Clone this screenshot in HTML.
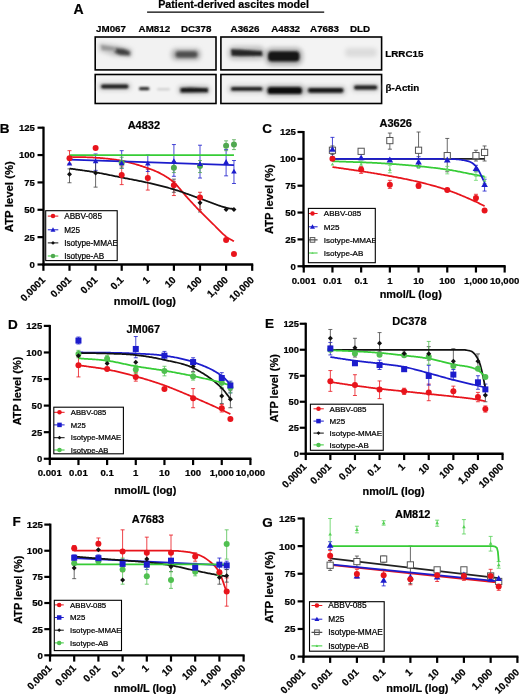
<!DOCTYPE html>
<html><head><meta charset="utf-8"><style>
html,body{margin:0;padding:0;background:#fff;}
body{width:520px;height:695px;overflow:hidden;font-family:"Liberation Sans",sans-serif;}
svg text{font-family:"Liberation Sans",sans-serif;stroke:#000;stroke-width:0.22px;paint-order:stroke;}
</style></head><body>
<svg width="520" height="695" viewBox="0 0 520 695" style="display:block;filter:blur(0.4px)">
<defs>
<filter id="b1" x="-50%" y="-50%" width="200%" height="200%"><feGaussianBlur stdDeviation="1.0"/></filter>
<filter id="b2" x="-50%" y="-50%" width="200%" height="200%"><feGaussianBlur stdDeviation="0.8"/></filter>
<filter id="b4" x="-50%" y="-50%" width="200%" height="200%"><feGaussianBlur stdDeviation="1.5"/></filter>
<filter id="b3" x="-50%" y="-50%" width="200%" height="200%"><feGaussianBlur stdDeviation="2.2"/></filter>
</defs>
<text x="73.4" y="13.8" font-size="14" font-weight="bold">A</text>
<text x="233.6" y="7.8" font-size="10.7" font-weight="bold" text-anchor="middle">Patient-derived ascites model</text>
<line x1="147.1" y1="12.1" x2="324.2" y2="12.1" stroke="#000" stroke-width="1.3"/>
<g font-size="9.8" font-weight="bold" text-anchor="middle">
<text x="111" y="31.7">JM067</text>
<text x="154.4" y="31.7">AM812</text>
<text x="196.2" y="31.7">DC378</text>
<text x="245" y="31.7">A3626</text>
<text x="285.6" y="31.7">A4832</text>
<text x="324.5" y="31.7">A7683</text>
<text x="360" y="31.7">DLD</text>
</g>
<rect x="95.2" y="37" width="120.8" height="32.9" fill="#f2f2f2" stroke="#000" stroke-width="1.6"/>
<rect x="220.9" y="37" width="160.7" height="32.9" fill="#f3f3f3" stroke="#000" stroke-width="1.6"/>
<rect x="95.2" y="74.5" width="120.8" height="29" fill="#f3f3f3" stroke="#000" stroke-width="1.6"/>
<rect x="220.9" y="74.5" width="160.7" height="29" fill="#f3f3f3" stroke="#000" stroke-width="1.6"/>
<g filter="url(#b3)">
<path d="M99,43 L116,45 L132,49 L132,57 L114,56 L99,51Z" fill="#c4c4c4"/>
<rect x="171" y="48.5" width="30" height="12" rx="5" fill="#b8b8b8"/>
<rect x="228" y="46" width="37" height="14" rx="6" fill="#c0c0c0"/>
<rect x="265" y="47.5" width="38" height="18" rx="7" fill="#b0b0b0"/>
<rect x="345" y="48" width="32" height="9" rx="4" fill="#dcdcdc"/>
<rect x="98" y="82.5" width="33" height="8" rx="4" fill="#c8c8c8"/>
<rect x="178" y="85.5" width="32" height="9" rx="4" fill="#c0c0c0"/>
<rect x="228" y="85" width="37" height="8" rx="4" fill="#c8c8c8"/>
<rect x="265" y="84.5" width="40" height="12" rx="5" fill="#b8b8b8"/>
<rect x="305" y="86" width="41" height="9" rx="4" fill="#c4c4c4"/>
<rect x="351.5" y="83.5" width="28" height="8" rx="4" fill="#c8c8c8"/>
</g>
<g filter="url(#b4)">
<path d="M115,48 L124,49 L130,51.5 L130,55.5 L120,55 L114.5,52.5Z" fill="#3e3e3e"/>
<rect x="175.5" y="51.3" width="22" height="6.4" rx="3" fill="#4c4c4c"/>
</g>
<g filter="url(#b1)">
<path d="M101,45 L114,47 L117,51 L102,50Z" fill="#9a9a9a"/>

<path d="M231,49.3 Q232,49 240,49.6 L262,51 L262.5,56 L240,56.2 L231.5,55.8Z" fill="#262626"/>
<rect x="268" y="51.2" width="31.5" height="10.2" rx="4" fill="#181818"/>
</g>
<g filter="url(#b2)">
<rect x="101" y="84.6" width="27.5" height="3.8" rx="1.9" fill="#1c1c1c"/>
<rect x="139" y="87" width="10.5" height="3.3" rx="1.6" fill="#2a2a2a"/>
<rect x="157" y="88" width="13" height="2.5" rx="1.2" fill="#d2d2d2"/>
<path d="M180.5,88 L190,87.6 L208,88.2 L208,92.2 L190,92.4 L180.5,92.6Z" fill="#141414"/>
<rect x="231" y="87" width="31.5" height="3.8" rx="1.9" fill="#1a1a1a"/>
<rect x="267.5" y="86.9" width="34.5" height="7.2" rx="3.2" fill="#101010"/>
<rect x="308" y="88" width="35.5" height="4.8" rx="2.4" fill="#161616"/>
<rect x="354" y="85.6" width="23.3" height="3.9" rx="1.9" fill="#1a1a1a"/>
</g>
<text x="385.3" y="57" font-size="9.8" font-weight="bold">LRRC15</text>
<text x="385.6" y="90.5" font-size="9.8" font-weight="bold">β-Actin</text>

<text x="-0.20" y="132.60" font-size="13.5" font-weight="bold" text-anchor="start" fill="#000" >B</text>
<text x="143.85" y="129.30" font-size="11" font-weight="bold" text-anchor="middle" fill="#000" >A4832</text>
<line x1="43.50" y1="126.70" x2="43.50" y2="265.70" stroke="#000" stroke-width="2.3" />
<line x1="37.50" y1="264.50" x2="43.50" y2="264.50" stroke="#000" stroke-width="2.2" />
<text x="34.90" y="267.91" font-size="9.6" font-weight="bold" text-anchor="end" fill="#000" >0</text>
<line x1="37.50" y1="237.14" x2="43.50" y2="237.14" stroke="#000" stroke-width="2.2" />
<text x="34.90" y="240.55" font-size="9.6" font-weight="bold" text-anchor="end" fill="#000" >25</text>
<line x1="37.50" y1="209.78" x2="43.50" y2="209.78" stroke="#000" stroke-width="2.2" />
<text x="34.90" y="213.19" font-size="9.6" font-weight="bold" text-anchor="end" fill="#000" >50</text>
<line x1="37.50" y1="182.42" x2="43.50" y2="182.42" stroke="#000" stroke-width="2.2" />
<text x="34.90" y="185.83" font-size="9.6" font-weight="bold" text-anchor="end" fill="#000" >75</text>
<line x1="37.50" y1="155.06" x2="43.50" y2="155.06" stroke="#000" stroke-width="2.2" />
<text x="34.90" y="158.47" font-size="9.6" font-weight="bold" text-anchor="end" fill="#000" >100</text>
<line x1="37.50" y1="127.70" x2="43.50" y2="127.70" stroke="#000" stroke-width="2.2" />
<text x="34.90" y="131.11" font-size="9.6" font-weight="bold" text-anchor="end" fill="#000" >125</text>
<text transform="translate(12.80,196.70) rotate(-90)" font-size="11.4" font-weight="bold" text-anchor="middle">ATP level (%)</text>
<line x1="42.40" y1="264.50" x2="253.20" y2="264.50" stroke="#000" stroke-width="2.3" />
<line x1="43.40" y1="264.50" x2="43.40" y2="270.80" stroke="#000" stroke-width="2.2" />
<text transform="translate(45.90,280.60) rotate(-45)" font-size="9.9" font-weight="bold" text-anchor="end">0.0001</text>
<line x1="69.50" y1="264.50" x2="69.50" y2="270.80" stroke="#000" stroke-width="2.2" />
<text transform="translate(72.00,280.60) rotate(-45)" font-size="9.9" font-weight="bold" text-anchor="end">0.001</text>
<line x1="95.60" y1="264.50" x2="95.60" y2="270.80" stroke="#000" stroke-width="2.2" />
<text transform="translate(98.10,280.60) rotate(-45)" font-size="9.9" font-weight="bold" text-anchor="end">0.01</text>
<line x1="121.70" y1="264.50" x2="121.70" y2="270.80" stroke="#000" stroke-width="2.2" />
<text transform="translate(124.20,280.60) rotate(-45)" font-size="9.9" font-weight="bold" text-anchor="end">0.1</text>
<line x1="147.80" y1="264.50" x2="147.80" y2="270.80" stroke="#000" stroke-width="2.2" />
<text transform="translate(150.30,280.60) rotate(-45)" font-size="9.9" font-weight="bold" text-anchor="end">1</text>
<line x1="173.90" y1="264.50" x2="173.90" y2="270.80" stroke="#000" stroke-width="2.2" />
<text transform="translate(176.40,280.60) rotate(-45)" font-size="9.9" font-weight="bold" text-anchor="end">10</text>
<line x1="200.00" y1="264.50" x2="200.00" y2="270.80" stroke="#000" stroke-width="2.2" />
<text transform="translate(202.50,280.60) rotate(-45)" font-size="9.9" font-weight="bold" text-anchor="end">100</text>
<line x1="226.10" y1="264.50" x2="226.10" y2="270.80" stroke="#000" stroke-width="2.2" />
<text transform="translate(228.60,280.60) rotate(-45)" font-size="9.9" font-weight="bold" text-anchor="end">1,000</text>
<line x1="252.20" y1="264.50" x2="252.20" y2="270.80" stroke="#000" stroke-width="2.2" />
<text transform="translate(254.70,280.60) rotate(-45)" font-size="9.9" font-weight="bold" text-anchor="end">10,000</text>
<text x="144.90" y="304.60" font-size="10.9" font-weight="bold" text-anchor="middle" fill="#000" >nmol/L (log)</text>
<svg x="45.70" y="210.70" width="71.50" height="49.90" overflow="hidden">
<line x1="2.10" y1="5.40" x2="12.60" y2="5.40" stroke="#e8141c" stroke-width="1" />
<circle cx="7.30" cy="5.40" r="2.25" fill="#e8141c"/>
<text x="18.50" y="8.35" font-size="8.2" font-weight="normal" text-anchor="start" fill="#000" >ABBV-085</text>
<line x1="2.10" y1="19.10" x2="12.60" y2="19.10" stroke="#1c1ccc" stroke-width="1" />
<path d="M7.30,16.63 L9.77,20.96 L4.83,20.96Z" fill="#1c1ccc"/>
<text x="18.50" y="22.05" font-size="8.2" font-weight="normal" text-anchor="start" fill="#000" >M25</text>
<line x1="2.10" y1="32.20" x2="12.60" y2="32.20" stroke="#111111" stroke-width="1" />
<path d="M7.30,30.33 L9.18,32.20 L7.30,34.08 L5.42,32.20Z" fill="#111111"/>
<text x="18.50" y="35.15" font-size="8.2" font-weight="normal" text-anchor="start" fill="#000" >Isotype-MMAE</text>
<line x1="2.10" y1="45.30" x2="12.60" y2="45.30" stroke="#36cc36" stroke-width="1" />
<circle cx="7.30" cy="45.30" r="2.25" fill="#50a850"/>
<text x="18.50" y="48.25" font-size="8.2" font-weight="normal" text-anchor="start" fill="#000" >Isotype-AB</text>
</svg>
<rect x="45.70" y="210.70" width="71.50" height="49.90" fill="none" stroke="#000" stroke-width="1.1"/>
<line x1="69.50" y1="163.82" x2="69.50" y2="150.68" stroke="#e8141c" stroke-width="0.8" />
<line x1="67.50" y1="163.82" x2="71.50" y2="163.82" stroke="#e8141c" stroke-width="0.8" />
<line x1="67.50" y1="150.68" x2="71.50" y2="150.68" stroke="#e8141c" stroke-width="0.8" />
<line x1="121.70" y1="184.61" x2="121.70" y2="166.00" stroke="#e8141c" stroke-width="0.8" />
<line x1="119.70" y1="184.61" x2="123.70" y2="184.61" stroke="#e8141c" stroke-width="0.8" />
<line x1="119.70" y1="166.00" x2="123.70" y2="166.00" stroke="#e8141c" stroke-width="0.8" />
<line x1="147.80" y1="190.08" x2="147.80" y2="169.29" stroke="#e8141c" stroke-width="0.8" />
<line x1="145.80" y1="190.08" x2="149.80" y2="190.08" stroke="#e8141c" stroke-width="0.8" />
<line x1="145.80" y1="169.29" x2="149.80" y2="169.29" stroke="#e8141c" stroke-width="0.8" />
<line x1="173.90" y1="195.55" x2="173.90" y2="181.33" stroke="#e8141c" stroke-width="0.8" />
<line x1="171.90" y1="195.55" x2="175.90" y2="195.55" stroke="#e8141c" stroke-width="0.8" />
<line x1="171.90" y1="181.33" x2="175.90" y2="181.33" stroke="#e8141c" stroke-width="0.8" />
<line x1="200.00" y1="209.78" x2="200.00" y2="192.27" stroke="#e8141c" stroke-width="0.8" />
<line x1="198.00" y1="209.78" x2="202.00" y2="209.78" stroke="#e8141c" stroke-width="0.8" />
<line x1="198.00" y1="192.27" x2="202.00" y2="192.27" stroke="#e8141c" stroke-width="0.8" />
<line x1="95.60" y1="170.38" x2="95.60" y2="153.97" stroke="#1c1ccc" stroke-width="0.8" />
<line x1="93.60" y1="170.38" x2="97.60" y2="170.38" stroke="#1c1ccc" stroke-width="0.8" />
<line x1="93.60" y1="153.97" x2="97.60" y2="153.97" stroke="#1c1ccc" stroke-width="0.8" />
<line x1="121.70" y1="168.19" x2="121.70" y2="150.68" stroke="#1c1ccc" stroke-width="0.8" />
<line x1="119.70" y1="168.19" x2="123.70" y2="168.19" stroke="#1c1ccc" stroke-width="0.8" />
<line x1="119.70" y1="150.68" x2="123.70" y2="150.68" stroke="#1c1ccc" stroke-width="0.8" />
<line x1="147.80" y1="171.48" x2="147.80" y2="155.06" stroke="#1c1ccc" stroke-width="0.8" />
<line x1="145.80" y1="171.48" x2="149.80" y2="171.48" stroke="#1c1ccc" stroke-width="0.8" />
<line x1="145.80" y1="155.06" x2="149.80" y2="155.06" stroke="#1c1ccc" stroke-width="0.8" />
<line x1="173.90" y1="176.29" x2="173.90" y2="144.55" stroke="#1c1ccc" stroke-width="0.8" />
<line x1="171.90" y1="176.29" x2="175.90" y2="176.29" stroke="#1c1ccc" stroke-width="0.8" />
<line x1="171.90" y1="144.55" x2="175.90" y2="144.55" stroke="#1c1ccc" stroke-width="0.8" />
<line x1="200.00" y1="178.04" x2="200.00" y2="145.21" stroke="#1c1ccc" stroke-width="0.8" />
<line x1="198.00" y1="178.04" x2="202.00" y2="178.04" stroke="#1c1ccc" stroke-width="0.8" />
<line x1="198.00" y1="145.21" x2="202.00" y2="145.21" stroke="#1c1ccc" stroke-width="0.8" />
<line x1="226.10" y1="175.85" x2="226.10" y2="149.59" stroke="#1c1ccc" stroke-width="0.8" />
<line x1="224.10" y1="175.85" x2="228.10" y2="175.85" stroke="#1c1ccc" stroke-width="0.8" />
<line x1="224.10" y1="149.59" x2="228.10" y2="149.59" stroke="#1c1ccc" stroke-width="0.8" />
<line x1="233.96" y1="183.51" x2="233.96" y2="160.53" stroke="#1c1ccc" stroke-width="0.8" />
<line x1="231.96" y1="183.51" x2="235.96" y2="183.51" stroke="#1c1ccc" stroke-width="0.8" />
<line x1="231.96" y1="160.53" x2="235.96" y2="160.53" stroke="#1c1ccc" stroke-width="0.8" />
<line x1="69.50" y1="182.75" x2="69.50" y2="168.85" stroke="#444" stroke-width="0.8" />
<line x1="67.50" y1="182.75" x2="71.50" y2="182.75" stroke="#444" stroke-width="0.8" />
<line x1="67.50" y1="168.85" x2="71.50" y2="168.85" stroke="#444" stroke-width="0.8" />
<line x1="95.60" y1="187.13" x2="95.60" y2="160.86" stroke="#444" stroke-width="0.8" />
<line x1="93.60" y1="187.13" x2="97.60" y2="187.13" stroke="#444" stroke-width="0.8" />
<line x1="93.60" y1="160.86" x2="97.60" y2="160.86" stroke="#444" stroke-width="0.8" />
<line x1="173.90" y1="192.27" x2="173.90" y2="179.14" stroke="#444" stroke-width="0.8" />
<line x1="171.90" y1="192.27" x2="175.90" y2="192.27" stroke="#444" stroke-width="0.8" />
<line x1="171.90" y1="179.14" x2="175.90" y2="179.14" stroke="#444" stroke-width="0.8" />
<line x1="200.00" y1="211.97" x2="200.00" y2="196.65" stroke="#444" stroke-width="0.8" />
<line x1="198.00" y1="211.97" x2="202.00" y2="211.97" stroke="#444" stroke-width="0.8" />
<line x1="198.00" y1="196.65" x2="202.00" y2="196.65" stroke="#444" stroke-width="0.8" />
<line x1="121.70" y1="168.19" x2="121.70" y2="157.25" stroke="#50a850" stroke-width="0.8" />
<line x1="119.70" y1="168.19" x2="123.70" y2="168.19" stroke="#50a850" stroke-width="0.8" />
<line x1="119.70" y1="157.25" x2="123.70" y2="157.25" stroke="#50a850" stroke-width="0.8" />
<line x1="173.90" y1="172.57" x2="173.90" y2="161.63" stroke="#50a850" stroke-width="0.8" />
<line x1="171.90" y1="172.57" x2="175.90" y2="172.57" stroke="#50a850" stroke-width="0.8" />
<line x1="171.90" y1="161.63" x2="175.90" y2="161.63" stroke="#50a850" stroke-width="0.8" />
<line x1="200.00" y1="172.57" x2="200.00" y2="160.53" stroke="#50a850" stroke-width="0.8" />
<line x1="198.00" y1="172.57" x2="202.00" y2="172.57" stroke="#50a850" stroke-width="0.8" />
<line x1="198.00" y1="160.53" x2="202.00" y2="160.53" stroke="#50a850" stroke-width="0.8" />
<line x1="226.10" y1="150.68" x2="226.10" y2="140.83" stroke="#50a850" stroke-width="0.8" />
<line x1="224.10" y1="150.68" x2="228.10" y2="150.68" stroke="#50a850" stroke-width="0.8" />
<line x1="224.10" y1="140.83" x2="228.10" y2="140.83" stroke="#50a850" stroke-width="0.8" />
<line x1="233.96" y1="149.59" x2="233.96" y2="139.74" stroke="#50a850" stroke-width="0.8" />
<line x1="231.96" y1="149.59" x2="235.96" y2="149.59" stroke="#50a850" stroke-width="0.8" />
<line x1="231.96" y1="139.74" x2="235.96" y2="139.74" stroke="#50a850" stroke-width="0.8" />
<path d="M69.50,156.92 L70.50,156.95 L71.51,156.97 L72.51,157.00 L73.52,157.02 L74.52,157.03 L75.52,157.05 L76.53,157.07 L77.53,157.08 L78.53,157.10 L79.54,157.11 L80.54,157.13 L81.55,157.14 L82.55,157.16 L83.55,157.18 L84.56,157.20 L85.56,157.22 L86.57,157.25 L87.57,157.28 L88.57,157.32 L89.58,157.35 L90.58,157.40 L91.58,157.44 L92.59,157.49 L93.59,157.55 L94.60,157.62 L95.60,157.69 L96.60,157.76 L97.61,157.84 L98.61,157.91 L99.62,157.99 L100.62,158.07 L101.62,158.15 L102.63,158.23 L103.63,158.32 L104.63,158.41 L105.64,158.50 L106.64,158.60 L107.65,158.70 L108.65,158.80 L109.65,158.91 L110.66,159.03 L111.66,159.15 L112.67,159.28 L113.67,159.41 L114.67,159.55 L115.68,159.70 L116.68,159.85 L117.68,160.02 L118.69,160.19 L119.69,160.37 L120.70,160.55 L121.70,160.75 L122.70,160.96 L123.71,161.17 L124.71,161.39 L125.72,161.62 L126.72,161.86 L127.72,162.10 L128.73,162.35 L129.73,162.60 L130.73,162.87 L131.74,163.13 L132.74,163.41 L133.75,163.69 L134.75,163.98 L135.75,164.27 L136.76,164.57 L137.76,164.88 L138.77,165.19 L139.77,165.50 L140.77,165.82 L141.78,166.15 L142.78,166.48 L143.78,166.81 L144.79,167.15 L145.79,167.49 L146.80,167.84 L147.80,168.19 L148.80,168.55 L149.81,168.91 L150.81,169.27 L151.82,169.64 L152.82,170.02 L153.82,170.41 L154.83,170.82 L155.83,171.24 L156.83,171.68 L157.84,172.14 L158.84,172.62 L159.85,173.13 L160.85,173.66 L161.85,174.21 L162.86,174.77 L163.86,175.34 L164.87,175.92 L165.87,176.52 L166.87,177.14 L167.88,177.79 L168.88,178.46 L169.88,179.17 L170.89,179.92 L171.89,180.71 L172.90,181.54 L173.90,182.42 L174.90,183.36 L175.91,184.37 L176.91,185.43 L177.92,186.55 L178.92,187.70 L179.92,188.88 L180.93,190.08 L181.93,191.29 L182.93,192.51 L183.94,193.71 L184.94,194.90 L185.95,196.07 L186.95,197.19 L187.95,198.30 L188.96,199.40 L189.96,200.50 L190.97,201.60 L191.97,202.69 L192.97,203.78 L193.98,204.86 L194.98,205.94 L195.98,207.01 L196.99,208.07 L197.99,209.12 L199.00,210.17 L200.00,211.20 L201.00,212.23 L202.01,213.24 L203.01,214.24 L204.02,215.24 L205.02,216.23 L206.02,217.21 L207.03,218.18 L208.03,219.15 L209.03,220.12 L210.04,221.09 L211.04,222.06 L212.05,223.03 L213.05,224.01 L214.05,225.00 L215.06,226.00 L216.06,227.02 L217.07,228.05 L218.07,229.08 L219.07,230.10 L220.08,231.12 L221.08,232.11 L222.08,233.08 L223.09,234.02 L224.09,234.92 L225.10,235.78 L226.10,236.59 L227.22,237.42 L228.34,238.15 L229.47,238.81 L230.59,239.43 L231.71,240.04 L232.83,240.65 L233.96,241.30" fill="none" stroke-linejoin="round" stroke="#e8141c" stroke-width="1.75"/>
<path d="M69.50,159.66 L233.96,165.24" fill="none" stroke-linejoin="round" stroke="#1c1ccc" stroke-width="1.75"/>
<path d="M69.50,168.52 L70.50,168.67 L71.51,168.81 L72.51,168.96 L73.52,169.10 L74.52,169.24 L75.52,169.38 L76.53,169.52 L77.53,169.66 L78.53,169.80 L79.54,169.93 L80.54,170.07 L81.55,170.21 L82.55,170.35 L83.55,170.50 L84.56,170.64 L85.56,170.78 L86.57,170.93 L87.57,171.08 L88.57,171.23 L89.58,171.38 L90.58,171.53 L91.58,171.69 L92.59,171.85 L93.59,172.01 L94.60,172.18 L95.60,172.35 L96.60,172.53 L97.61,172.70 L98.61,172.89 L99.62,173.07 L100.62,173.26 L101.62,173.45 L102.63,173.64 L103.63,173.83 L104.63,174.03 L105.64,174.23 L106.64,174.43 L107.65,174.63 L108.65,174.83 L109.65,175.04 L110.66,175.24 L111.66,175.45 L112.67,175.66 L113.67,175.86 L114.67,176.07 L115.68,176.27 L116.68,176.48 L117.68,176.68 L118.69,176.89 L119.69,177.09 L120.70,177.29 L121.70,177.50 L122.70,177.69 L123.71,177.89 L124.71,178.09 L125.72,178.28 L126.72,178.48 L127.72,178.67 L128.73,178.86 L129.73,179.06 L130.73,179.25 L131.74,179.44 L132.74,179.64 L133.75,179.83 L134.75,180.03 L135.75,180.22 L136.76,180.42 L137.76,180.62 L138.77,180.82 L139.77,181.02 L140.77,181.23 L141.78,181.44 L142.78,181.65 L143.78,181.86 L144.79,182.08 L145.79,182.30 L146.80,182.52 L147.80,182.75 L148.80,182.98 L149.81,183.21 L150.81,183.44 L151.82,183.67 L152.82,183.91 L153.82,184.14 L154.83,184.38 L155.83,184.62 L156.83,184.86 L157.84,185.10 L158.84,185.35 L159.85,185.60 L160.85,185.85 L161.85,186.10 L162.86,186.36 L163.86,186.62 L164.87,186.88 L165.87,187.15 L166.87,187.42 L167.88,187.69 L168.88,187.97 L169.88,188.25 L170.89,188.54 L171.89,188.83 L172.90,189.12 L173.90,189.42 L174.90,189.73 L175.91,190.04 L176.91,190.36 L177.92,190.69 L178.92,191.02 L179.92,191.35 L180.93,191.69 L181.93,192.04 L182.93,192.39 L183.94,192.74 L184.94,193.09 L185.95,193.45 L186.95,193.81 L187.95,194.17 L188.96,194.53 L189.96,194.90 L190.97,195.26 L191.97,195.63 L192.97,195.99 L193.98,196.35 L194.98,196.72 L195.98,197.08 L196.99,197.44 L197.99,197.80 L199.00,198.15 L200.00,198.51 L201.00,198.86 L202.01,199.22 L203.01,199.59 L204.02,199.96 L205.02,200.34 L206.02,200.72 L207.03,201.10 L208.03,201.49 L209.03,201.87 L210.04,202.26 L211.04,202.64 L212.05,203.02 L213.05,203.40 L214.05,203.77 L215.06,204.15 L216.06,204.51 L217.07,204.87 L218.07,205.22 L219.07,205.57 L220.08,205.91 L221.08,206.23 L222.08,206.55 L223.09,206.86 L224.09,207.15 L225.10,207.43 L226.10,207.70 L227.22,207.96 L228.34,208.18 L229.47,208.37 L230.59,208.53 L231.71,208.68 L232.83,208.84 L233.96,209.01" fill="none" stroke-linejoin="round" stroke="#111111" stroke-width="1.75"/>
<path d="M69.50,155.06 L233.96,155.06" fill="none" stroke-linejoin="round" stroke="#36cc36" stroke-width="1.75"/>
<circle cx="121.70" cy="162.72" r="3.00" fill="#50a850"/>
<circle cx="173.90" cy="167.65" r="3.00" fill="#50a850"/>
<circle cx="200.00" cy="166.00" r="3.00" fill="#50a850"/>
<circle cx="226.10" cy="145.65" r="3.00" fill="#50a850"/>
<circle cx="233.96" cy="144.55" r="3.00" fill="#50a850"/>
<path d="M69.50,171.71 L72.00,174.21 L69.50,176.71 L67.00,174.21Z" fill="#111111"/>
<path d="M95.60,170.51 L98.10,173.01 L95.60,175.51 L93.10,173.01Z" fill="#111111"/>
<path d="M173.90,182.33 L176.40,184.83 L173.90,187.33 L171.40,184.83Z" fill="#111111"/>
<path d="M200.00,200.17 L202.50,202.67 L200.00,205.17 L197.50,202.67Z" fill="#111111"/>
<path d="M226.10,206.95 L228.60,209.45 L226.10,211.95 L223.60,209.45Z" fill="#111111"/>
<path d="M233.96,206.95 L236.46,209.45 L233.96,211.95 L231.46,209.45Z" fill="#111111"/>
<circle cx="69.50" cy="158.34" r="3.00" fill="#e8141c"/>
<circle cx="95.60" cy="148.06" r="3.00" fill="#e8141c"/>
<circle cx="121.70" cy="174.98" r="3.00" fill="#e8141c"/>
<circle cx="147.80" cy="178.04" r="3.00" fill="#e8141c"/>
<circle cx="173.90" cy="185.37" r="3.00" fill="#e8141c"/>
<circle cx="200.00" cy="197.52" r="3.00" fill="#e8141c"/>
<circle cx="226.10" cy="239.99" r="3.00" fill="#e8141c"/>
<circle cx="233.96" cy="253.99" r="3.00" fill="#e8141c"/>
<path d="M69.50,160.68 L72.31,165.59 L66.69,165.59Z" fill="#1c1ccc"/>
<path d="M95.60,158.38 L98.41,163.29 L92.79,163.29Z" fill="#1c1ccc"/>
<path d="M121.70,160.24 L124.51,165.15 L118.90,165.15Z" fill="#1c1ccc"/>
<path d="M147.80,160.68 L150.61,165.59 L145.00,165.59Z" fill="#1c1ccc"/>
<path d="M173.90,158.16 L176.71,163.07 L171.09,163.07Z" fill="#1c1ccc"/>
<path d="M200.00,161.01 L202.81,165.92 L197.20,165.92Z" fill="#1c1ccc"/>
<path d="M226.10,159.04 L228.91,163.95 L223.30,163.95Z" fill="#1c1ccc"/>
<path d="M233.96,168.67 L236.76,173.58 L231.15,173.58Z" fill="#1c1ccc"/>
<text x="262.20" y="133.30" font-size="13.5" font-weight="bold" text-anchor="start" fill="#000" >C</text>
<text x="395.75" y="127.00" font-size="11" font-weight="bold" text-anchor="middle" fill="#000" >A3626</text>
<line x1="303.50" y1="131.00" x2="303.50" y2="267.45" stroke="#000" stroke-width="2.3" />
<line x1="297.50" y1="266.25" x2="303.50" y2="266.25" stroke="#000" stroke-width="2.2" />
<text x="295.90" y="269.66" font-size="9.6" font-weight="bold" text-anchor="end" fill="#000" >0</text>
<line x1="297.50" y1="239.40" x2="303.50" y2="239.40" stroke="#000" stroke-width="2.2" />
<text x="295.90" y="242.81" font-size="9.6" font-weight="bold" text-anchor="end" fill="#000" >25</text>
<line x1="297.50" y1="212.55" x2="303.50" y2="212.55" stroke="#000" stroke-width="2.2" />
<text x="295.90" y="215.96" font-size="9.6" font-weight="bold" text-anchor="end" fill="#000" >50</text>
<line x1="297.50" y1="185.70" x2="303.50" y2="185.70" stroke="#000" stroke-width="2.2" />
<text x="295.90" y="189.11" font-size="9.6" font-weight="bold" text-anchor="end" fill="#000" >75</text>
<line x1="297.50" y1="158.85" x2="303.50" y2="158.85" stroke="#000" stroke-width="2.2" />
<text x="295.90" y="162.26" font-size="9.6" font-weight="bold" text-anchor="end" fill="#000" >100</text>
<line x1="297.50" y1="132.00" x2="303.50" y2="132.00" stroke="#000" stroke-width="2.2" />
<text x="295.90" y="135.41" font-size="9.6" font-weight="bold" text-anchor="end" fill="#000" >125</text>
<text transform="translate(273.30,199.20) rotate(-90)" font-size="11.2" font-weight="bold" text-anchor="middle">ATP level (%)</text>
<line x1="302.40" y1="266.25" x2="505.65" y2="266.25" stroke="#000" stroke-width="2.3" />
<line x1="303.75" y1="266.25" x2="303.75" y2="272.55" stroke="#000" stroke-width="2.2" />
<text x="303.75" y="283.75" font-size="9.6" font-weight="bold" text-anchor="middle" fill="#000" >0.001</text>
<line x1="332.45" y1="266.25" x2="332.45" y2="272.55" stroke="#000" stroke-width="2.2" />
<text x="332.45" y="283.75" font-size="9.6" font-weight="bold" text-anchor="middle" fill="#000" >0.01</text>
<line x1="361.15" y1="266.25" x2="361.15" y2="272.55" stroke="#000" stroke-width="2.2" />
<text x="361.15" y="283.75" font-size="9.6" font-weight="bold" text-anchor="middle" fill="#000" >0.1</text>
<line x1="389.85" y1="266.25" x2="389.85" y2="272.55" stroke="#000" stroke-width="2.2" />
<text x="389.85" y="283.75" font-size="9.6" font-weight="bold" text-anchor="middle" fill="#000" >1</text>
<line x1="418.55" y1="266.25" x2="418.55" y2="272.55" stroke="#000" stroke-width="2.2" />
<text x="418.55" y="283.75" font-size="9.6" font-weight="bold" text-anchor="middle" fill="#000" >10</text>
<line x1="447.25" y1="266.25" x2="447.25" y2="272.55" stroke="#000" stroke-width="2.2" />
<text x="447.25" y="283.75" font-size="9.6" font-weight="bold" text-anchor="middle" fill="#000" >100</text>
<line x1="475.95" y1="266.25" x2="475.95" y2="272.55" stroke="#000" stroke-width="2.2" />
<text x="475.95" y="283.75" font-size="9.6" font-weight="bold" text-anchor="middle" fill="#000" >1,000</text>
<line x1="504.65" y1="266.25" x2="504.65" y2="272.55" stroke="#000" stroke-width="2.2" />
<text x="504.65" y="283.75" font-size="9.6" font-weight="bold" text-anchor="middle" fill="#000" >10,000</text>
<text x="410.75" y="298.20" font-size="10.9" font-weight="bold" text-anchor="middle" fill="#000" >nmol/L (log)</text>
<svg x="308.40" y="208.40" width="66.90" height="54.30" overflow="hidden">
<line x1="0.40" y1="5.10" x2="9.20" y2="5.10" stroke="#e8141c" stroke-width="1" />
<circle cx="4.10" cy="5.10" r="2.25" fill="#e8141c"/>
<text x="15.40" y="8.02" font-size="8.1" font-weight="normal" text-anchor="start" fill="#000" >ABBV-085</text>
<line x1="0.40" y1="18.40" x2="9.20" y2="18.40" stroke="#1c1ccc" stroke-width="1" />
<path d="M4.10,15.93 L6.57,20.26 L1.62,20.26Z" fill="#1c1ccc"/>
<text x="15.40" y="21.32" font-size="8.1" font-weight="normal" text-anchor="start" fill="#000" >M25</text>
<line x1="0.40" y1="31.50" x2="9.20" y2="31.50" stroke="#222" stroke-width="1" />
<rect x="1.77" y="29.18" width="4.65" height="4.65" fill="none" stroke="#555" stroke-width="1"/>
<text x="15.40" y="34.42" font-size="8.1" font-weight="normal" text-anchor="start" fill="#000" >Isotype-MMAE</text>
<line x1="0.40" y1="44.60" x2="9.20" y2="44.60" stroke="#36cc36" stroke-width="1" />
<path d="M4.10,43.25 L5.45,45.61 L2.75,45.61Z" fill="#6cd66c"/>
<text x="15.40" y="47.52" font-size="8.1" font-weight="normal" text-anchor="start" fill="#000" >Isotype-AB</text>
</svg>
<rect x="308.40" y="208.40" width="66.90" height="54.30" fill="none" stroke="#000" stroke-width="1.1"/>
<line x1="361.15" y1="173.35" x2="361.15" y2="166.37" stroke="#e8141c" stroke-width="0.8" />
<line x1="359.15" y1="173.35" x2="363.15" y2="173.35" stroke="#e8141c" stroke-width="0.8" />
<line x1="359.15" y1="166.37" x2="363.15" y2="166.37" stroke="#e8141c" stroke-width="0.8" />
<line x1="389.85" y1="188.38" x2="389.85" y2="180.33" stroke="#e8141c" stroke-width="0.8" />
<line x1="387.85" y1="188.38" x2="391.85" y2="188.38" stroke="#e8141c" stroke-width="0.8" />
<line x1="387.85" y1="180.33" x2="391.85" y2="180.33" stroke="#e8141c" stroke-width="0.8" />
<line x1="418.55" y1="188.38" x2="418.55" y2="183.01" stroke="#e8141c" stroke-width="0.8" />
<line x1="416.55" y1="188.38" x2="420.55" y2="188.38" stroke="#e8141c" stroke-width="0.8" />
<line x1="416.55" y1="183.01" x2="420.55" y2="183.01" stroke="#e8141c" stroke-width="0.8" />
<line x1="475.95" y1="200.74" x2="475.95" y2="194.29" stroke="#e8141c" stroke-width="0.8" />
<line x1="473.95" y1="200.74" x2="477.95" y2="200.74" stroke="#e8141c" stroke-width="0.8" />
<line x1="473.95" y1="194.29" x2="477.95" y2="194.29" stroke="#e8141c" stroke-width="0.8" />
<line x1="332.45" y1="156.70" x2="332.45" y2="137.37" stroke="#1c1ccc" stroke-width="0.8" />
<line x1="330.45" y1="156.70" x2="334.45" y2="156.70" stroke="#1c1ccc" stroke-width="0.8" />
<line x1="330.45" y1="137.37" x2="334.45" y2="137.37" stroke="#1c1ccc" stroke-width="0.8" />
<line x1="418.55" y1="167.44" x2="418.55" y2="156.70" stroke="#1c1ccc" stroke-width="0.8" />
<line x1="416.55" y1="167.44" x2="420.55" y2="167.44" stroke="#1c1ccc" stroke-width="0.8" />
<line x1="416.55" y1="156.70" x2="420.55" y2="156.70" stroke="#1c1ccc" stroke-width="0.8" />
<line x1="475.95" y1="171.74" x2="475.95" y2="165.29" stroke="#1c1ccc" stroke-width="0.8" />
<line x1="473.95" y1="171.74" x2="477.95" y2="171.74" stroke="#1c1ccc" stroke-width="0.8" />
<line x1="473.95" y1="165.29" x2="477.95" y2="165.29" stroke="#1c1ccc" stroke-width="0.8" />
<line x1="484.59" y1="191.07" x2="484.59" y2="179.26" stroke="#1c1ccc" stroke-width="0.8" />
<line x1="482.59" y1="191.07" x2="486.59" y2="191.07" stroke="#1c1ccc" stroke-width="0.8" />
<line x1="482.59" y1="179.26" x2="486.59" y2="179.26" stroke="#1c1ccc" stroke-width="0.8" />
<line x1="332.45" y1="154.55" x2="332.45" y2="145.96" stroke="#444" stroke-width="0.8" />
<line x1="330.45" y1="154.55" x2="334.45" y2="154.55" stroke="#444" stroke-width="0.8" />
<line x1="330.45" y1="145.96" x2="334.45" y2="145.96" stroke="#444" stroke-width="0.8" />
<line x1="361.15" y1="153.48" x2="361.15" y2="149.18" stroke="#444" stroke-width="0.8" />
<line x1="359.15" y1="153.48" x2="363.15" y2="153.48" stroke="#444" stroke-width="0.8" />
<line x1="359.15" y1="149.18" x2="363.15" y2="149.18" stroke="#444" stroke-width="0.8" />
<line x1="389.85" y1="149.18" x2="389.85" y2="133.07" stroke="#444" stroke-width="0.8" />
<line x1="387.85" y1="149.18" x2="391.85" y2="149.18" stroke="#444" stroke-width="0.8" />
<line x1="387.85" y1="133.07" x2="391.85" y2="133.07" stroke="#444" stroke-width="0.8" />
<line x1="418.55" y1="165.29" x2="418.55" y2="132.00" stroke="#444" stroke-width="0.8" />
<line x1="416.55" y1="165.29" x2="420.55" y2="165.29" stroke="#444" stroke-width="0.8" />
<line x1="416.55" y1="132.00" x2="420.55" y2="132.00" stroke="#444" stroke-width="0.8" />
<line x1="447.25" y1="171.74" x2="447.25" y2="138.44" stroke="#444" stroke-width="0.8" />
<line x1="445.25" y1="171.74" x2="449.25" y2="171.74" stroke="#444" stroke-width="0.8" />
<line x1="445.25" y1="138.44" x2="449.25" y2="138.44" stroke="#444" stroke-width="0.8" />
<line x1="475.95" y1="161.00" x2="475.95" y2="150.26" stroke="#444" stroke-width="0.8" />
<line x1="473.95" y1="161.00" x2="477.95" y2="161.00" stroke="#444" stroke-width="0.8" />
<line x1="473.95" y1="150.26" x2="477.95" y2="150.26" stroke="#444" stroke-width="0.8" />
<line x1="484.59" y1="161.00" x2="484.59" y2="145.96" stroke="#444" stroke-width="0.8" />
<line x1="482.59" y1="161.00" x2="486.59" y2="161.00" stroke="#444" stroke-width="0.8" />
<line x1="482.59" y1="145.96" x2="486.59" y2="145.96" stroke="#444" stroke-width="0.8" />
<line x1="361.15" y1="167.44" x2="361.15" y2="161.00" stroke="#6cd66c" stroke-width="0.8" />
<line x1="359.15" y1="167.44" x2="363.15" y2="167.44" stroke="#6cd66c" stroke-width="0.8" />
<line x1="359.15" y1="161.00" x2="363.15" y2="161.00" stroke="#6cd66c" stroke-width="0.8" />
<line x1="389.85" y1="172.81" x2="389.85" y2="165.29" stroke="#6cd66c" stroke-width="0.8" />
<line x1="387.85" y1="172.81" x2="391.85" y2="172.81" stroke="#6cd66c" stroke-width="0.8" />
<line x1="387.85" y1="165.29" x2="391.85" y2="165.29" stroke="#6cd66c" stroke-width="0.8" />
<line x1="447.25" y1="173.89" x2="447.25" y2="166.37" stroke="#6cd66c" stroke-width="0.8" />
<line x1="445.25" y1="173.89" x2="449.25" y2="173.89" stroke="#6cd66c" stroke-width="0.8" />
<line x1="445.25" y1="166.37" x2="449.25" y2="166.37" stroke="#6cd66c" stroke-width="0.8" />
<line x1="475.95" y1="180.33" x2="475.95" y2="171.74" stroke="#6cd66c" stroke-width="0.8" />
<line x1="473.95" y1="180.33" x2="477.95" y2="180.33" stroke="#6cd66c" stroke-width="0.8" />
<line x1="473.95" y1="171.74" x2="477.95" y2="171.74" stroke="#6cd66c" stroke-width="0.8" />
<line x1="484.59" y1="183.55" x2="484.59" y2="177.11" stroke="#6cd66c" stroke-width="0.8" />
<line x1="482.59" y1="183.55" x2="486.59" y2="183.55" stroke="#6cd66c" stroke-width="0.8" />
<line x1="482.59" y1="177.11" x2="486.59" y2="177.11" stroke="#6cd66c" stroke-width="0.8" />
<path d="M332.45,158.85 L484.59,158.85" fill="none" stroke-linejoin="round" stroke="#222" stroke-width="1.75"/>
<path d="M332.45,167.01 L333.47,167.16 L334.50,167.31 L335.52,167.46 L336.55,167.61 L337.57,167.75 L338.60,167.90 L339.62,168.04 L340.65,168.19 L341.68,168.34 L342.70,168.48 L343.72,168.63 L344.75,168.77 L345.77,168.92 L346.80,169.07 L347.82,169.21 L348.85,169.36 L349.88,169.51 L350.90,169.66 L351.92,169.81 L352.95,169.96 L353.97,170.11 L355.00,170.26 L356.02,170.41 L357.05,170.57 L358.07,170.72 L359.10,170.88 L360.12,171.04 L361.15,171.20 L362.17,171.36 L363.20,171.52 L364.22,171.69 L365.25,171.85 L366.27,172.01 L367.30,172.17 L368.32,172.34 L369.35,172.50 L370.38,172.67 L371.40,172.84 L372.43,173.00 L373.45,173.17 L374.48,173.34 L375.50,173.51 L376.52,173.68 L377.55,173.85 L378.57,174.03 L379.60,174.20 L380.62,174.38 L381.65,174.56 L382.68,174.74 L383.70,174.92 L384.73,175.10 L385.75,175.28 L386.78,175.47 L387.80,175.65 L388.83,175.84 L389.85,176.03 L390.88,176.23 L391.90,176.42 L392.93,176.61 L393.95,176.80 L394.98,177.00 L396.00,177.19 L397.03,177.38 L398.05,177.58 L399.08,177.78 L400.10,177.98 L401.12,178.18 L402.15,178.38 L403.18,178.58 L404.20,178.79 L405.23,178.99 L406.25,179.20 L407.28,179.41 L408.30,179.63 L409.33,179.85 L410.35,180.07 L411.38,180.29 L412.40,180.51 L413.43,180.74 L414.45,180.98 L415.48,181.21 L416.50,181.45 L417.53,181.69 L418.55,181.94 L419.57,182.19 L420.60,182.44 L421.62,182.69 L422.65,182.95 L423.68,183.20 L424.70,183.46 L425.73,183.72 L426.75,183.98 L427.78,184.24 L428.80,184.51 L429.82,184.77 L430.85,185.05 L431.88,185.32 L432.90,185.60 L433.93,185.88 L434.95,186.17 L435.98,186.46 L437.00,186.75 L438.02,187.05 L439.05,187.36 L440.07,187.67 L441.10,187.98 L442.12,188.30 L443.15,188.63 L444.18,188.96 L445.20,189.30 L446.23,189.64 L447.25,190.00 L448.27,190.35 L449.30,190.72 L450.32,191.09 L451.35,191.46 L452.38,191.85 L453.40,192.23 L454.43,192.63 L455.45,193.03 L456.48,193.43 L457.50,193.84 L458.52,194.25 L459.55,194.67 L460.57,195.09 L461.60,195.51 L462.62,195.94 L463.65,196.38 L464.68,196.81 L465.70,197.26 L466.73,197.70 L467.75,198.15 L468.77,198.60 L469.80,199.05 L470.82,199.50 L471.85,199.96 L472.88,200.42 L473.90,200.88 L474.93,201.34 L475.95,201.81 L477.03,202.31 L478.11,202.83 L479.19,203.37 L480.27,203.91 L481.35,204.46 L482.43,205.01 L483.51,205.56 L484.59,206.11" fill="none" stroke-linejoin="round" stroke="#e8141c" stroke-width="1.75"/>
<path d="M332.45,161.21 L333.46,161.26 L334.46,161.30 L335.47,161.34 L336.48,161.39 L337.49,161.43 L338.49,161.47 L339.50,161.51 L340.51,161.55 L341.51,161.59 L342.52,161.62 L343.53,161.66 L344.53,161.70 L345.54,161.74 L346.55,161.77 L347.56,161.81 L348.56,161.85 L349.57,161.88 L350.58,161.92 L351.58,161.95 L352.59,161.99 L353.60,162.02 L354.60,162.06 L355.61,162.10 L356.62,162.13 L357.63,162.17 L358.63,162.21 L359.64,162.24 L360.65,162.28 L361.65,162.32 L362.66,162.36 L363.67,162.40 L364.67,162.44 L365.68,162.48 L366.69,162.52 L367.70,162.56 L368.70,162.60 L369.71,162.65 L370.72,162.69 L371.72,162.74 L372.73,162.79 L373.74,162.83 L374.74,162.88 L375.75,162.93 L376.76,162.98 L377.77,163.04 L378.77,163.09 L379.78,163.15 L380.79,163.20 L381.79,163.26 L382.80,163.32 L383.81,163.38 L384.81,163.45 L385.82,163.51 L386.83,163.58 L387.84,163.65 L388.84,163.72 L389.85,163.79 L390.86,163.86 L391.86,163.94 L392.87,164.01 L393.88,164.09 L394.89,164.16 L395.89,164.24 L396.90,164.32 L397.91,164.40 L398.91,164.47 L399.92,164.55 L400.93,164.63 L401.93,164.71 L402.94,164.79 L403.95,164.88 L404.96,164.96 L405.96,165.04 L406.97,165.13 L407.98,165.22 L408.98,165.30 L409.99,165.39 L411.00,165.48 L412.00,165.57 L413.01,165.66 L414.02,165.75 L415.03,165.84 L416.03,165.94 L417.04,166.03 L418.05,166.13 L419.05,166.23 L420.06,166.33 L421.07,166.43 L422.07,166.53 L423.08,166.63 L424.09,166.74 L425.10,166.84 L426.10,166.95 L427.11,167.06 L428.12,167.17 L429.12,167.28 L430.13,167.40 L431.14,167.51 L432.14,167.63 L433.15,167.75 L434.16,167.87 L435.17,167.99 L436.17,168.11 L437.18,168.24 L438.19,168.36 L439.19,168.49 L440.20,168.62 L441.21,168.76 L442.21,168.89 L443.22,169.03 L444.23,169.16 L445.24,169.30 L446.24,169.45 L447.25,169.59 L448.27,169.74 L449.30,169.90 L450.32,170.06 L451.35,170.23 L452.38,170.40 L453.40,170.58 L454.43,170.76 L455.45,170.94 L456.48,171.13 L457.50,171.33 L458.52,171.52 L459.55,171.72 L460.57,171.92 L461.60,172.12 L462.62,172.33 L463.65,172.53 L464.68,172.74 L465.70,172.94 L466.73,173.15 L467.75,173.36 L468.77,173.56 L469.80,173.77 L470.82,173.97 L471.85,174.17 L472.88,174.37 L473.90,174.57 L474.93,174.77 L475.95,174.96 L477.03,175.16 L478.11,175.36 L479.19,175.56 L480.27,175.77 L481.35,175.97 L482.43,176.17 L483.51,176.37 L484.59,176.57" fill="none" stroke-linejoin="round" stroke="#36cc36" stroke-width="1.75"/>
<path d="M332.45,158.85 L333.45,158.85 L334.45,158.85 L335.45,158.85 L336.45,158.85 L337.46,158.85 L338.46,158.85 L339.46,158.85 L340.46,158.85 L341.46,158.85 L342.46,158.85 L343.46,158.85 L344.46,158.85 L345.47,158.85 L346.47,158.85 L347.47,158.85 L348.47,158.85 L349.47,158.85 L350.47,158.85 L351.47,158.85 L352.47,158.85 L353.47,158.85 L354.48,158.85 L355.48,158.85 L356.48,158.85 L357.48,158.85 L358.48,158.85 L359.48,158.85 L360.48,158.85 L361.48,158.85 L362.48,158.85 L363.49,158.85 L364.49,158.85 L365.49,158.85 L366.49,158.85 L367.49,158.85 L368.49,158.85 L369.49,158.85 L370.49,158.85 L371.50,158.85 L372.50,158.85 L373.50,158.85 L374.50,158.85 L375.50,158.85 L376.50,158.85 L377.50,158.85 L378.50,158.85 L379.50,158.85 L380.51,158.85 L381.51,158.85 L382.51,158.85 L383.51,158.85 L384.51,158.85 L385.51,158.85 L386.51,158.85 L387.51,158.85 L388.52,158.85 L389.52,158.85 L390.52,158.85 L391.52,158.85 L392.52,158.85 L393.52,158.85 L394.52,158.85 L395.52,158.85 L396.52,158.85 L397.53,158.85 L398.53,158.85 L399.53,158.85 L400.53,158.85 L401.53,158.85 L402.53,158.85 L403.53,158.85 L404.53,158.85 L405.53,158.85 L406.54,158.85 L407.54,158.85 L408.54,158.85 L409.54,158.85 L410.54,158.85 L411.54,158.85 L412.54,158.85 L413.54,158.85 L414.55,158.85 L415.55,158.85 L416.55,158.85 L417.55,158.85 L418.55,158.85 L419.57,158.85 L420.60,158.85 L421.62,158.85 L422.65,158.85 L423.68,158.86 L424.70,158.86 L425.73,158.86 L426.75,158.87 L427.78,158.87 L428.80,158.88 L429.82,158.88 L430.85,158.89 L431.88,158.89 L432.90,158.90 L433.93,158.91 L434.95,158.92 L435.98,158.93 L437.00,158.94 L438.02,158.95 L439.05,158.96 L440.07,158.97 L441.10,158.98 L442.12,158.99 L443.15,159.01 L444.18,159.02 L445.20,159.03 L446.23,159.05 L447.25,159.06 L448.27,159.08 L449.30,159.09 L450.32,159.10 L451.35,159.12 L452.38,159.14 L453.40,159.17 L454.43,159.20 L455.45,159.25 L456.48,159.31 L457.50,159.39 L458.53,159.49 L459.55,159.61 L460.58,159.75 L461.60,159.92 L462.62,160.10 L463.65,160.26 L464.68,160.43 L465.70,160.61 L466.73,160.82 L467.75,161.08 L468.77,161.39 L469.80,161.78 L470.82,162.25 L471.85,162.82 L472.88,163.50 L473.90,164.31 L474.93,165.26 L475.95,166.37 L477.03,167.80 L478.11,169.54 L479.19,171.51 L480.27,173.66 L481.35,175.90 L482.43,178.16 L483.51,180.38 L484.59,182.48" fill="none" stroke-linejoin="round" stroke="#1c1ccc" stroke-width="1.75"/>
<rect x="329.35" y="147.16" width="6.20" height="6.20" fill="#fff" stroke="#555" stroke-width="1"/>
<rect x="358.05" y="148.23" width="6.20" height="6.20" fill="#fff" stroke="#555" stroke-width="1"/>
<rect x="386.75" y="137.49" width="6.20" height="6.20" fill="#fff" stroke="#555" stroke-width="1"/>
<rect x="415.45" y="147.16" width="6.20" height="6.20" fill="#fff" stroke="#555" stroke-width="1"/>
<rect x="444.15" y="152.53" width="6.20" height="6.20" fill="#fff" stroke="#555" stroke-width="1"/>
<rect x="472.85" y="152.53" width="6.20" height="6.20" fill="#fff" stroke="#555" stroke-width="1"/>
<rect x="481.49" y="149.31" width="6.20" height="6.20" fill="#fff" stroke="#555" stroke-width="1"/>
<circle cx="332.45" cy="158.85" r="3.00" fill="#e8141c"/>
<circle cx="361.15" cy="169.59" r="3.00" fill="#e8141c"/>
<circle cx="389.85" cy="184.63" r="3.00" fill="#e8141c"/>
<circle cx="418.55" cy="185.70" r="3.00" fill="#e8141c"/>
<circle cx="447.25" cy="190.00" r="3.00" fill="#e8141c"/>
<circle cx="475.95" cy="198.05" r="3.00" fill="#e8141c"/>
<circle cx="484.59" cy="210.40" r="3.00" fill="#e8141c"/>
<path d="M332.45,162.42 L334.25,165.57 L330.65,165.57Z" fill="#6cd66c"/>
<path d="M361.15,162.42 L362.95,165.57 L359.35,165.57Z" fill="#6cd66c"/>
<path d="M389.85,167.79 L391.65,170.94 L388.05,170.94Z" fill="#6cd66c"/>
<path d="M418.55,165.64 L420.35,168.79 L416.75,168.79Z" fill="#6cd66c"/>
<path d="M447.25,167.79 L449.05,170.94 L445.45,170.94Z" fill="#6cd66c"/>
<path d="M475.95,173.70 L477.75,176.85 L474.15,176.85Z" fill="#6cd66c"/>
<path d="M484.59,178.53 L486.39,181.68 L482.79,181.68Z" fill="#6cd66c"/>
<path d="M332.45,145.88 L335.75,151.66 L329.15,151.66Z" fill="#1c1ccc"/>
<path d="M361.15,154.48 L364.45,160.25 L357.85,160.25Z" fill="#1c1ccc"/>
<path d="M389.85,156.62 L393.15,162.40 L386.55,162.40Z" fill="#1c1ccc"/>
<path d="M418.55,158.77 L421.85,164.55 L415.25,164.55Z" fill="#1c1ccc"/>
<path d="M447.25,156.62 L450.55,162.40 L443.95,162.40Z" fill="#1c1ccc"/>
<path d="M475.95,165.22 L479.25,170.99 L472.65,170.99Z" fill="#1c1ccc"/>
<path d="M484.59,181.33 L487.89,187.10 L481.29,187.10Z" fill="#1c1ccc"/>
<text x="8.00" y="328.80" font-size="13.5" font-weight="bold" text-anchor="start" fill="#000" >D</text>
<text x="143.20" y="333.00" font-size="11" font-weight="bold" text-anchor="middle" fill="#000" >JM067</text>
<line x1="49.80" y1="324.90" x2="49.80" y2="459.95" stroke="#000" stroke-width="2.3" />
<line x1="43.80" y1="458.75" x2="49.80" y2="458.75" stroke="#000" stroke-width="2.2" />
<text x="42.20" y="462.12" font-size="9.5" font-weight="bold" text-anchor="end" fill="#000" >0</text>
<line x1="43.80" y1="432.18" x2="49.80" y2="432.18" stroke="#000" stroke-width="2.2" />
<text x="42.20" y="435.55" font-size="9.5" font-weight="bold" text-anchor="end" fill="#000" >25</text>
<line x1="43.80" y1="405.61" x2="49.80" y2="405.61" stroke="#000" stroke-width="2.2" />
<text x="42.20" y="408.98" font-size="9.5" font-weight="bold" text-anchor="end" fill="#000" >50</text>
<line x1="43.80" y1="379.04" x2="49.80" y2="379.04" stroke="#000" stroke-width="2.2" />
<text x="42.20" y="382.41" font-size="9.5" font-weight="bold" text-anchor="end" fill="#000" >75</text>
<line x1="43.80" y1="352.47" x2="49.80" y2="352.47" stroke="#000" stroke-width="2.2" />
<text x="42.20" y="355.84" font-size="9.5" font-weight="bold" text-anchor="end" fill="#000" >100</text>
<line x1="43.80" y1="325.90" x2="49.80" y2="325.90" stroke="#000" stroke-width="2.2" />
<text x="42.20" y="329.27" font-size="9.5" font-weight="bold" text-anchor="end" fill="#000" >125</text>
<text transform="translate(21.30,391.00) rotate(-90)" font-size="11.0" font-weight="bold" text-anchor="middle">ATP level (%)</text>
<line x1="48.70" y1="458.75" x2="251.42" y2="458.75" stroke="#000" stroke-width="2.3" />
<line x1="49.80" y1="458.75" x2="49.80" y2="465.05" stroke="#000" stroke-width="2.2" />
<text x="49.80" y="475.50" font-size="9.6" font-weight="bold" text-anchor="middle" fill="#000" >0.001</text>
<line x1="78.46" y1="458.75" x2="78.46" y2="465.05" stroke="#000" stroke-width="2.2" />
<text x="78.46" y="475.50" font-size="9.6" font-weight="bold" text-anchor="middle" fill="#000" >0.01</text>
<line x1="107.12" y1="458.75" x2="107.12" y2="465.05" stroke="#000" stroke-width="2.2" />
<text x="107.12" y="475.50" font-size="9.6" font-weight="bold" text-anchor="middle" fill="#000" >0.1</text>
<line x1="135.78" y1="458.75" x2="135.78" y2="465.05" stroke="#000" stroke-width="2.2" />
<text x="135.78" y="475.50" font-size="9.6" font-weight="bold" text-anchor="middle" fill="#000" >1</text>
<line x1="164.44" y1="458.75" x2="164.44" y2="465.05" stroke="#000" stroke-width="2.2" />
<text x="164.44" y="475.50" font-size="9.6" font-weight="bold" text-anchor="middle" fill="#000" >10</text>
<line x1="193.10" y1="458.75" x2="193.10" y2="465.05" stroke="#000" stroke-width="2.2" />
<text x="193.10" y="475.50" font-size="9.6" font-weight="bold" text-anchor="middle" fill="#000" >100</text>
<line x1="221.76" y1="458.75" x2="221.76" y2="465.05" stroke="#000" stroke-width="2.2" />
<text x="221.76" y="475.50" font-size="9.6" font-weight="bold" text-anchor="middle" fill="#000" >1,000</text>
<line x1="250.42" y1="458.75" x2="250.42" y2="465.05" stroke="#000" stroke-width="2.2" />
<text x="250.42" y="475.50" font-size="9.6" font-weight="bold" text-anchor="middle" fill="#000" >10,000</text>
<text x="145.30" y="494.40" font-size="10.9" font-weight="bold" text-anchor="middle" fill="#000" >nmol/L (log)</text>
<svg x="53.80" y="407.20" width="69.60" height="46.60" overflow="hidden">
<line x1="0.00" y1="5.10" x2="10.80" y2="5.10" stroke="#e8141c" stroke-width="1" />
<circle cx="5.70" cy="5.10" r="2.25" fill="#e8141c"/>
<text x="17.00" y="7.87" font-size="7.7" font-weight="normal" text-anchor="start" fill="#000" >ABBV-085</text>
<line x1="0.00" y1="17.70" x2="10.80" y2="17.70" stroke="#1c1ccc" stroke-width="1" />
<rect x="3.45" y="15.45" width="4.50" height="4.50" fill="#1c1ccc"/>
<text x="17.00" y="20.47" font-size="7.7" font-weight="normal" text-anchor="start" fill="#000" >M25</text>
<line x1="0.00" y1="30.50" x2="10.80" y2="30.50" stroke="#111111" stroke-width="1" />
<path d="M5.70,28.62 L7.58,30.50 L5.70,32.38 L3.83,30.50Z" fill="#111111"/>
<text x="17.00" y="33.27" font-size="7.7" font-weight="normal" text-anchor="start" fill="#000" >Isotype-MMAE</text>
<line x1="0.00" y1="42.80" x2="10.80" y2="42.80" stroke="#36cc36" stroke-width="1" />
<circle cx="5.70" cy="42.80" r="2.25" fill="#50c050"/>
<text x="17.00" y="45.57" font-size="7.7" font-weight="normal" text-anchor="start" fill="#000" >Isotype-AB</text>
</svg>
<rect x="53.80" y="407.20" width="69.60" height="46.60" fill="none" stroke="#000" stroke-width="1.1"/>
<line x1="78.46" y1="376.91" x2="78.46" y2="356.72" stroke="#e8141c" stroke-width="0.8" />
<line x1="76.46" y1="376.91" x2="80.46" y2="376.91" stroke="#e8141c" stroke-width="0.8" />
<line x1="76.46" y1="356.72" x2="80.46" y2="356.72" stroke="#e8141c" stroke-width="0.8" />
<line x1="135.78" y1="381.17" x2="135.78" y2="372.66" stroke="#e8141c" stroke-width="0.8" />
<line x1="133.78" y1="381.17" x2="137.78" y2="381.17" stroke="#e8141c" stroke-width="0.8" />
<line x1="133.78" y1="372.66" x2="137.78" y2="372.66" stroke="#e8141c" stroke-width="0.8" />
<line x1="193.10" y1="407.74" x2="193.10" y2="388.61" stroke="#e8141c" stroke-width="0.8" />
<line x1="191.10" y1="407.74" x2="195.10" y2="407.74" stroke="#e8141c" stroke-width="0.8" />
<line x1="191.10" y1="388.61" x2="195.10" y2="388.61" stroke="#e8141c" stroke-width="0.8" />
<line x1="221.76" y1="411.99" x2="221.76" y2="404.55" stroke="#e8141c" stroke-width="0.8" />
<line x1="219.76" y1="411.99" x2="223.76" y2="411.99" stroke="#e8141c" stroke-width="0.8" />
<line x1="219.76" y1="404.55" x2="223.76" y2="404.55" stroke="#e8141c" stroke-width="0.8" />
<line x1="78.46" y1="343.97" x2="78.46" y2="337.06" stroke="#1c1ccc" stroke-width="0.8" />
<line x1="76.46" y1="343.97" x2="80.46" y2="343.97" stroke="#1c1ccc" stroke-width="0.8" />
<line x1="76.46" y1="337.06" x2="80.46" y2="337.06" stroke="#1c1ccc" stroke-width="0.8" />
<line x1="135.78" y1="357.78" x2="135.78" y2="336.53" stroke="#1c1ccc" stroke-width="0.8" />
<line x1="133.78" y1="357.78" x2="137.78" y2="357.78" stroke="#1c1ccc" stroke-width="0.8" />
<line x1="133.78" y1="336.53" x2="137.78" y2="336.53" stroke="#1c1ccc" stroke-width="0.8" />
<line x1="164.44" y1="359.91" x2="164.44" y2="351.41" stroke="#1c1ccc" stroke-width="0.8" />
<line x1="162.44" y1="359.91" x2="166.44" y2="359.91" stroke="#1c1ccc" stroke-width="0.8" />
<line x1="162.44" y1="351.41" x2="166.44" y2="351.41" stroke="#1c1ccc" stroke-width="0.8" />
<line x1="193.10" y1="366.29" x2="193.10" y2="357.78" stroke="#1c1ccc" stroke-width="0.8" />
<line x1="191.10" y1="366.29" x2="195.10" y2="366.29" stroke="#1c1ccc" stroke-width="0.8" />
<line x1="191.10" y1="357.78" x2="195.10" y2="357.78" stroke="#1c1ccc" stroke-width="0.8" />
<line x1="221.76" y1="383.29" x2="221.76" y2="372.66" stroke="#1c1ccc" stroke-width="0.8" />
<line x1="219.76" y1="383.29" x2="223.76" y2="383.29" stroke="#1c1ccc" stroke-width="0.8" />
<line x1="219.76" y1="372.66" x2="223.76" y2="372.66" stroke="#1c1ccc" stroke-width="0.8" />
<line x1="230.39" y1="392.86" x2="230.39" y2="381.17" stroke="#1c1ccc" stroke-width="0.8" />
<line x1="228.39" y1="392.86" x2="232.39" y2="392.86" stroke="#1c1ccc" stroke-width="0.8" />
<line x1="228.39" y1="381.17" x2="232.39" y2="381.17" stroke="#1c1ccc" stroke-width="0.8" />
<line x1="193.10" y1="371.60" x2="193.10" y2="360.97" stroke="#444" stroke-width="0.8" />
<line x1="191.10" y1="371.60" x2="195.10" y2="371.60" stroke="#444" stroke-width="0.8" />
<line x1="191.10" y1="360.97" x2="195.10" y2="360.97" stroke="#444" stroke-width="0.8" />
<line x1="221.76" y1="403.48" x2="221.76" y2="388.61" stroke="#444" stroke-width="0.8" />
<line x1="219.76" y1="403.48" x2="223.76" y2="403.48" stroke="#444" stroke-width="0.8" />
<line x1="219.76" y1="388.61" x2="223.76" y2="388.61" stroke="#444" stroke-width="0.8" />
<line x1="230.39" y1="407.74" x2="230.39" y2="390.73" stroke="#444" stroke-width="0.8" />
<line x1="228.39" y1="407.74" x2="232.39" y2="407.74" stroke="#444" stroke-width="0.8" />
<line x1="228.39" y1="390.73" x2="232.39" y2="390.73" stroke="#444" stroke-width="0.8" />
<line x1="78.46" y1="357.78" x2="78.46" y2="350.34" stroke="#50c050" stroke-width="0.8" />
<line x1="76.46" y1="357.78" x2="80.46" y2="357.78" stroke="#50c050" stroke-width="0.8" />
<line x1="76.46" y1="350.34" x2="80.46" y2="350.34" stroke="#50c050" stroke-width="0.8" />
<line x1="107.12" y1="362.04" x2="107.12" y2="355.66" stroke="#50c050" stroke-width="0.8" />
<line x1="105.12" y1="362.04" x2="109.12" y2="362.04" stroke="#50c050" stroke-width="0.8" />
<line x1="105.12" y1="355.66" x2="109.12" y2="355.66" stroke="#50c050" stroke-width="0.8" />
<line x1="135.78" y1="373.73" x2="135.78" y2="365.22" stroke="#50c050" stroke-width="0.8" />
<line x1="133.78" y1="373.73" x2="137.78" y2="373.73" stroke="#50c050" stroke-width="0.8" />
<line x1="133.78" y1="365.22" x2="137.78" y2="365.22" stroke="#50c050" stroke-width="0.8" />
<line x1="164.44" y1="375.85" x2="164.44" y2="366.29" stroke="#50c050" stroke-width="0.8" />
<line x1="162.44" y1="375.85" x2="166.44" y2="375.85" stroke="#50c050" stroke-width="0.8" />
<line x1="162.44" y1="366.29" x2="166.44" y2="366.29" stroke="#50c050" stroke-width="0.8" />
<line x1="193.10" y1="380.10" x2="193.10" y2="372.66" stroke="#50c050" stroke-width="0.8" />
<line x1="191.10" y1="380.10" x2="195.10" y2="380.10" stroke="#50c050" stroke-width="0.8" />
<line x1="191.10" y1="372.66" x2="195.10" y2="372.66" stroke="#50c050" stroke-width="0.8" />
<line x1="221.76" y1="387.54" x2="221.76" y2="377.98" stroke="#50c050" stroke-width="0.8" />
<line x1="219.76" y1="387.54" x2="223.76" y2="387.54" stroke="#50c050" stroke-width="0.8" />
<line x1="219.76" y1="377.98" x2="223.76" y2="377.98" stroke="#50c050" stroke-width="0.8" />
<line x1="230.39" y1="392.86" x2="230.39" y2="382.23" stroke="#50c050" stroke-width="0.8" />
<line x1="228.39" y1="392.86" x2="232.39" y2="392.86" stroke="#50c050" stroke-width="0.8" />
<line x1="228.39" y1="382.23" x2="232.39" y2="382.23" stroke="#50c050" stroke-width="0.8" />
<path d="M78.46,365.22 L79.48,365.37 L80.51,365.52 L81.53,365.67 L82.55,365.81 L83.58,365.95 L84.60,366.09 L85.62,366.22 L86.65,366.36 L87.67,366.50 L88.70,366.63 L89.72,366.77 L90.74,366.91 L91.77,367.04 L92.79,367.18 L93.81,367.32 L94.84,367.47 L95.86,367.61 L96.88,367.76 L97.91,367.91 L98.93,368.07 L99.95,368.23 L100.98,368.39 L102.00,368.56 L103.03,368.73 L104.05,368.91 L105.07,369.09 L106.10,369.28 L107.12,369.47 L108.14,369.68 L109.17,369.88 L110.19,370.09 L111.21,370.30 L112.24,370.52 L113.26,370.74 L114.28,370.97 L115.31,371.19 L116.33,371.42 L117.36,371.66 L118.38,371.90 L119.40,372.14 L120.43,372.38 L121.45,372.63 L122.47,372.88 L123.50,373.13 L124.52,373.39 L125.54,373.65 L126.57,373.91 L127.59,374.18 L128.62,374.44 L129.64,374.71 L130.66,374.99 L131.69,375.26 L132.71,375.54 L133.73,375.82 L134.76,376.10 L135.78,376.38 L136.80,376.67 L137.83,376.96 L138.85,377.25 L139.87,377.54 L140.90,377.83 L141.92,378.13 L142.94,378.43 L143.97,378.73 L144.99,379.04 L146.02,379.34 L147.04,379.65 L148.06,379.97 L149.09,380.28 L150.11,380.60 L151.13,380.92 L152.16,381.25 L153.18,381.58 L154.20,381.91 L155.23,382.24 L156.25,382.58 L157.28,382.92 L158.30,383.27 L159.32,383.62 L160.35,383.97 L161.37,384.32 L162.39,384.68 L163.42,385.05 L164.44,385.42 L165.46,385.79 L166.49,386.17 L167.51,386.55 L168.53,386.94 L169.56,387.33 L170.58,387.73 L171.61,388.13 L172.63,388.53 L173.65,388.94 L174.68,389.35 L175.70,389.77 L176.72,390.19 L177.75,390.61 L178.77,391.03 L179.79,391.46 L180.82,391.88 L181.84,392.31 L182.86,392.74 L183.89,393.18 L184.91,393.61 L185.94,394.05 L186.96,394.48 L187.98,394.92 L189.01,395.36 L190.03,395.80 L191.05,396.23 L192.08,396.67 L193.10,397.11 L194.12,397.54 L195.15,397.98 L196.17,398.42 L197.19,398.86 L198.22,399.30 L199.24,399.75 L200.27,400.19 L201.29,400.63 L202.31,401.08 L203.34,401.53 L204.36,401.98 L205.38,402.43 L206.41,402.88 L207.43,403.33 L208.45,403.79 L209.48,404.24 L210.50,404.70 L211.52,405.16 L212.55,405.62 L213.57,406.09 L214.59,406.55 L215.62,407.02 L216.64,407.49 L217.67,407.96 L218.69,408.43 L219.71,408.91 L220.74,409.38 L221.76,409.86 L222.84,410.37 L223.92,410.90 L225.00,411.43 L226.07,411.96 L227.15,412.50 L228.23,413.04 L229.31,413.58 L230.39,414.11" fill="none" stroke-linejoin="round" stroke="#e8141c" stroke-width="1.75"/>
<path d="M78.46,352.47 L79.48,352.48 L80.51,352.48 L81.53,352.49 L82.55,352.49 L83.58,352.50 L84.60,352.50 L85.62,352.51 L86.65,352.51 L87.67,352.52 L88.70,352.52 L89.72,352.52 L90.74,352.53 L91.77,352.53 L92.79,352.54 L93.81,352.54 L94.84,352.55 L95.86,352.55 L96.88,352.56 L97.91,352.57 L98.93,352.58 L99.95,352.58 L100.98,352.59 L102.00,352.61 L103.03,352.62 L104.05,352.63 L105.07,352.65 L106.10,352.66 L107.12,352.68 L108.14,352.70 L109.17,352.72 L110.19,352.74 L111.21,352.76 L112.24,352.78 L113.26,352.80 L114.28,352.82 L115.31,352.84 L116.33,352.86 L117.36,352.89 L118.38,352.91 L119.40,352.94 L120.43,352.96 L121.45,352.99 L122.47,353.02 L123.50,353.05 L124.52,353.08 L125.54,353.11 L126.57,353.14 L127.59,353.18 L128.62,353.22 L129.64,353.25 L130.66,353.30 L131.69,353.34 L132.71,353.38 L133.73,353.43 L134.76,353.48 L135.78,353.53 L136.80,353.58 L137.83,353.64 L138.85,353.68 L139.87,353.73 L140.90,353.78 L141.92,353.83 L142.94,353.87 L143.97,353.92 L144.99,353.97 L146.02,354.02 L147.04,354.08 L148.06,354.13 L149.09,354.19 L150.11,354.25 L151.13,354.31 L152.16,354.38 L153.18,354.46 L154.20,354.53 L155.23,354.62 L156.25,354.70 L157.28,354.80 L158.30,354.90 L159.32,355.01 L160.35,355.12 L161.37,355.24 L162.39,355.37 L163.42,355.51 L164.44,355.66 L165.46,355.81 L166.49,355.97 L167.51,356.12 L168.53,356.28 L169.56,356.44 L170.58,356.61 L171.61,356.78 L172.63,356.95 L173.65,357.13 L174.68,357.32 L175.70,357.51 L176.72,357.70 L177.75,357.91 L178.77,358.12 L179.79,358.33 L180.82,358.56 L181.84,358.79 L182.86,359.03 L183.89,359.29 L184.91,359.55 L185.94,359.82 L186.96,360.10 L187.98,360.39 L189.01,360.70 L190.03,361.01 L191.05,361.34 L192.08,361.68 L193.10,362.04 L194.12,362.40 L195.15,362.76 L196.17,363.12 L197.19,363.49 L198.22,363.87 L199.24,364.24 L200.27,364.63 L201.29,365.02 L202.31,365.42 L203.34,365.83 L204.36,366.25 L205.38,366.68 L206.41,367.12 L207.43,367.58 L208.45,368.05 L209.48,368.53 L210.50,369.03 L211.52,369.55 L212.55,370.08 L213.57,370.64 L214.59,371.21 L215.62,371.80 L216.64,372.42 L217.67,373.06 L218.69,373.72 L219.71,374.40 L220.74,375.11 L221.76,375.85 L222.84,376.71 L223.92,377.67 L225.00,378.72 L226.07,379.83 L227.15,380.97 L228.23,382.13 L229.31,383.26 L230.39,384.35" fill="none" stroke-linejoin="round" stroke="#1c1ccc" stroke-width="1.75"/>
<path d="M78.46,353.00 L79.48,353.02 L80.51,353.04 L81.53,353.05 L82.55,353.07 L83.58,353.08 L84.60,353.10 L85.62,353.11 L86.65,353.13 L87.67,353.14 L88.70,353.15 L89.72,353.17 L90.74,353.18 L91.77,353.19 L92.79,353.21 L93.81,353.22 L94.84,353.24 L95.86,353.25 L96.88,353.27 L97.91,353.29 L98.93,353.31 L99.95,353.33 L100.98,353.36 L102.00,353.38 L103.03,353.41 L104.05,353.44 L105.07,353.47 L106.10,353.50 L107.12,353.53 L108.14,353.57 L109.17,353.60 L110.19,353.63 L111.21,353.67 L112.24,353.70 L113.26,353.73 L114.28,353.76 L115.31,353.79 L116.33,353.82 L117.36,353.85 L118.38,353.89 L119.40,353.93 L120.43,353.96 L121.45,354.00 L122.47,354.05 L123.50,354.09 L124.52,354.15 L125.54,354.20 L126.57,354.26 L127.59,354.32 L128.62,354.39 L129.64,354.46 L130.66,354.54 L131.69,354.62 L132.71,354.71 L133.73,354.81 L134.76,354.91 L135.78,355.02 L136.80,355.14 L137.83,355.26 L138.85,355.38 L139.87,355.51 L140.90,355.65 L141.92,355.79 L142.94,355.93 L143.97,356.08 L144.99,356.23 L146.02,356.39 L147.04,356.55 L148.06,356.71 L149.09,356.88 L150.11,357.05 L151.13,357.23 L152.16,357.41 L153.18,357.60 L154.20,357.79 L155.23,357.98 L156.25,358.18 L157.28,358.38 L158.30,358.59 L159.32,358.80 L160.35,359.01 L161.37,359.23 L162.39,359.45 L163.42,359.68 L164.44,359.91 L165.46,360.14 L166.49,360.36 L167.51,360.58 L168.53,360.79 L169.56,361.00 L170.58,361.21 L171.61,361.42 L172.63,361.63 L173.65,361.85 L174.68,362.07 L175.70,362.29 L176.72,362.52 L177.75,362.75 L178.77,363.00 L179.79,363.25 L180.82,363.52 L181.84,363.79 L182.86,364.09 L183.89,364.39 L184.91,364.71 L185.94,365.05 L186.96,365.40 L187.98,365.78 L189.01,366.17 L190.03,366.59 L191.05,367.03 L192.08,367.50 L193.10,367.99 L194.12,368.50 L195.15,369.01 L196.17,369.54 L197.19,370.09 L198.22,370.64 L199.24,371.21 L200.27,371.79 L201.29,372.39 L202.31,373.00 L203.34,373.62 L204.36,374.26 L205.38,374.92 L206.41,375.59 L207.43,376.28 L208.45,376.99 L209.48,377.72 L210.50,378.47 L211.52,379.23 L212.55,380.02 L213.57,380.82 L214.59,381.65 L215.62,382.50 L216.64,383.37 L217.67,384.26 L218.69,385.18 L219.71,386.12 L220.74,387.08 L221.76,388.07 L222.84,389.20 L223.92,390.45 L225.00,391.79 L226.07,393.19 L227.15,394.64 L228.23,396.09 L229.31,397.53 L230.39,398.91" fill="none" stroke-linejoin="round" stroke="#111111" stroke-width="1.75"/>
<path d="M78.46,358.32 L79.48,358.40 L80.51,358.47 L81.53,358.55 L82.55,358.62 L83.58,358.69 L84.60,358.76 L85.62,358.82 L86.65,358.89 L87.67,358.95 L88.70,359.02 L89.72,359.08 L90.74,359.14 L91.77,359.21 L92.79,359.28 L93.81,359.35 L94.84,359.42 L95.86,359.50 L96.88,359.58 L97.91,359.66 L98.93,359.75 L99.95,359.84 L100.98,359.93 L102.00,360.04 L103.03,360.15 L104.05,360.26 L105.07,360.39 L106.10,360.52 L107.12,360.65 L108.14,360.80 L109.17,360.96 L110.19,361.12 L111.21,361.30 L112.24,361.48 L113.26,361.67 L114.28,361.86 L115.31,362.06 L116.33,362.27 L117.36,362.47 L118.38,362.69 L119.40,362.90 L120.43,363.12 L121.45,363.34 L122.47,363.57 L123.50,363.79 L124.52,364.01 L125.54,364.23 L126.57,364.45 L127.59,364.67 L128.62,364.89 L129.64,365.10 L130.66,365.31 L131.69,365.52 L132.71,365.72 L133.73,365.92 L134.76,366.10 L135.78,366.29 L136.80,366.46 L137.83,366.63 L138.85,366.80 L139.87,366.97 L140.90,367.13 L141.92,367.29 L142.94,367.44 L143.97,367.59 L144.99,367.74 L146.02,367.89 L147.04,368.04 L148.06,368.19 L149.09,368.33 L150.11,368.48 L151.13,368.62 L152.16,368.77 L153.18,368.91 L154.20,369.06 L155.23,369.21 L156.25,369.36 L157.28,369.51 L158.30,369.66 L159.32,369.82 L160.35,369.98 L161.37,370.14 L162.39,370.30 L163.42,370.47 L164.44,370.64 L165.46,370.82 L166.49,371.00 L167.51,371.17 L168.53,371.35 L169.56,371.53 L170.58,371.71 L171.61,371.89 L172.63,372.08 L173.65,372.26 L174.68,372.45 L175.70,372.64 L176.72,372.83 L177.75,373.02 L178.77,373.21 L179.79,373.40 L180.82,373.60 L181.84,373.79 L182.86,373.99 L183.89,374.19 L184.91,374.39 L185.94,374.59 L186.96,374.80 L187.98,375.01 L189.01,375.21 L190.03,375.42 L191.05,375.64 L192.08,375.85 L193.10,376.06 L194.12,376.28 L195.15,376.50 L196.17,376.72 L197.19,376.94 L198.22,377.16 L199.24,377.38 L200.27,377.60 L201.29,377.82 L202.31,378.05 L203.34,378.27 L204.36,378.50 L205.38,378.73 L206.41,378.96 L207.43,379.20 L208.45,379.44 L209.48,379.67 L210.50,379.92 L211.52,380.16 L212.55,380.41 L213.57,380.65 L214.59,380.91 L215.62,381.16 L216.64,381.42 L217.67,381.68 L218.69,381.94 L219.71,382.21 L220.74,382.48 L221.76,382.76 L222.84,383.06 L223.92,383.38 L225.00,383.71 L226.07,384.05 L227.15,384.39 L228.23,384.74 L229.31,385.08 L230.39,385.42" fill="none" stroke-linejoin="round" stroke="#36cc36" stroke-width="1.75"/>
<circle cx="78.46" cy="365.22" r="3.00" fill="#e8141c"/>
<circle cx="107.12" cy="369.05" r="3.00" fill="#e8141c"/>
<circle cx="135.78" cy="376.91" r="3.00" fill="#e8141c"/>
<circle cx="164.44" cy="388.92" r="3.00" fill="#e8141c"/>
<circle cx="193.10" cy="398.17" r="3.00" fill="#e8141c"/>
<circle cx="221.76" cy="408.16" r="3.00" fill="#e8141c"/>
<circle cx="230.39" cy="418.89" r="3.00" fill="#e8141c"/>
<circle cx="78.46" cy="354.06" r="3.00" fill="#50c050"/>
<circle cx="107.12" cy="358.85" r="3.00" fill="#50c050"/>
<circle cx="135.78" cy="369.47" r="3.00" fill="#50c050"/>
<circle cx="164.44" cy="371.07" r="3.00" fill="#50c050"/>
<circle cx="193.10" cy="376.49" r="3.00" fill="#50c050"/>
<circle cx="221.76" cy="382.76" r="3.00" fill="#50c050"/>
<circle cx="230.39" cy="387.54" r="3.00" fill="#50c050"/>
<path d="M78.46,353.37 L80.96,355.87 L78.46,358.37 L75.96,355.87Z" fill="#111111"/>
<path d="M107.12,361.02 L109.62,363.52 L107.12,366.02 L104.62,363.52Z" fill="#111111"/>
<path d="M135.78,359.64 L138.28,362.14 L135.78,364.64 L133.28,362.14Z" fill="#111111"/>
<path d="M193.10,364.00 L195.60,366.50 L193.10,369.00 L190.60,366.50Z" fill="#111111"/>
<path d="M221.76,393.54 L224.26,396.04 L221.76,398.54 L219.26,396.04Z" fill="#111111"/>
<path d="M230.39,396.73 L232.89,399.23 L230.39,401.73 L227.89,399.23Z" fill="#111111"/>
<rect x="75.46" y="337.57" width="6.00" height="6.00" fill="#1c1ccc"/>
<rect x="132.78" y="345.96" width="6.00" height="6.00" fill="#1c1ccc"/>
<rect x="161.44" y="352.66" width="6.00" height="6.00" fill="#1c1ccc"/>
<rect x="190.10" y="359.04" width="6.00" height="6.00" fill="#1c1ccc"/>
<rect x="218.76" y="374.98" width="6.00" height="6.00" fill="#1c1ccc"/>
<rect x="227.39" y="382.42" width="6.00" height="6.00" fill="#1c1ccc"/>
<text x="265.00" y="327.50" font-size="13.5" font-weight="bold" text-anchor="start" fill="#000" >E</text>
<text x="409.40" y="324.60" font-size="11" font-weight="bold" text-anchor="middle" fill="#000" >DC378</text>
<line x1="305.75" y1="322.75" x2="305.75" y2="454.95" stroke="#000" stroke-width="2.3" />
<line x1="299.75" y1="453.75" x2="305.75" y2="453.75" stroke="#000" stroke-width="2.2" />
<text x="298.95" y="457.05" font-size="9.3" font-weight="bold" text-anchor="end" fill="#000" >0</text>
<line x1="299.75" y1="427.75" x2="305.75" y2="427.75" stroke="#000" stroke-width="2.2" />
<text x="298.95" y="431.05" font-size="9.3" font-weight="bold" text-anchor="end" fill="#000" >25</text>
<line x1="299.75" y1="401.75" x2="305.75" y2="401.75" stroke="#000" stroke-width="2.2" />
<text x="298.95" y="405.05" font-size="9.3" font-weight="bold" text-anchor="end" fill="#000" >50</text>
<line x1="299.75" y1="375.75" x2="305.75" y2="375.75" stroke="#000" stroke-width="2.2" />
<text x="298.95" y="379.05" font-size="9.3" font-weight="bold" text-anchor="end" fill="#000" >75</text>
<line x1="299.75" y1="349.75" x2="305.75" y2="349.75" stroke="#000" stroke-width="2.2" />
<text x="298.95" y="353.05" font-size="9.3" font-weight="bold" text-anchor="end" fill="#000" >100</text>
<line x1="299.75" y1="323.75" x2="305.75" y2="323.75" stroke="#000" stroke-width="2.2" />
<text x="298.95" y="327.05" font-size="9.3" font-weight="bold" text-anchor="end" fill="#000" >125</text>
<text transform="translate(278.30,388.20) rotate(-90)" font-size="10.9" font-weight="bold" text-anchor="middle">ATP level (%)</text>
<line x1="304.65" y1="453.75" x2="503.55" y2="453.75" stroke="#000" stroke-width="2.3" />
<line x1="305.75" y1="453.75" x2="305.75" y2="460.05" stroke="#000" stroke-width="2.2" />
<text transform="translate(307.25,467.25) rotate(-45)" font-size="9.9" font-weight="bold" text-anchor="end">0.0001</text>
<line x1="330.35" y1="453.75" x2="330.35" y2="460.05" stroke="#000" stroke-width="2.2" />
<text transform="translate(331.85,467.25) rotate(-45)" font-size="9.9" font-weight="bold" text-anchor="end">0.001</text>
<line x1="354.95" y1="453.75" x2="354.95" y2="460.05" stroke="#000" stroke-width="2.2" />
<text transform="translate(356.45,467.25) rotate(-45)" font-size="9.9" font-weight="bold" text-anchor="end">0.01</text>
<line x1="379.55" y1="453.75" x2="379.55" y2="460.05" stroke="#000" stroke-width="2.2" />
<text transform="translate(381.05,467.25) rotate(-45)" font-size="9.9" font-weight="bold" text-anchor="end">0.1</text>
<line x1="404.15" y1="453.75" x2="404.15" y2="460.05" stroke="#000" stroke-width="2.2" />
<text transform="translate(405.65,467.25) rotate(-45)" font-size="9.9" font-weight="bold" text-anchor="end">1</text>
<line x1="428.75" y1="453.75" x2="428.75" y2="460.05" stroke="#000" stroke-width="2.2" />
<text transform="translate(430.25,467.25) rotate(-45)" font-size="9.9" font-weight="bold" text-anchor="end">10</text>
<line x1="453.35" y1="453.75" x2="453.35" y2="460.05" stroke="#000" stroke-width="2.2" />
<text transform="translate(454.85,467.25) rotate(-45)" font-size="9.9" font-weight="bold" text-anchor="end">100</text>
<line x1="477.95" y1="453.75" x2="477.95" y2="460.05" stroke="#000" stroke-width="2.2" />
<text transform="translate(479.45,467.25) rotate(-45)" font-size="9.9" font-weight="bold" text-anchor="end">1,000</text>
<line x1="502.55" y1="453.75" x2="502.55" y2="460.05" stroke="#000" stroke-width="2.2" />
<text transform="translate(504.05,467.25) rotate(-45)" font-size="9.9" font-weight="bold" text-anchor="end">10,000</text>
<text x="393.60" y="494.90" font-size="10.9" font-weight="bold" text-anchor="middle" fill="#000" >nmol/L (log)</text>
<svg x="310.40" y="404.20" width="72.85" height="46.10" overflow="hidden">
<line x1="3.10" y1="4.60" x2="13.40" y2="4.60" stroke="#e8141c" stroke-width="1" />
<circle cx="8.10" cy="4.60" r="2.25" fill="#e8141c"/>
<text x="19.20" y="7.48" font-size="8.0" font-weight="normal" text-anchor="start" fill="#000" >ABBV-085</text>
<line x1="3.10" y1="16.90" x2="13.40" y2="16.90" stroke="#1c1ccc" stroke-width="1" />
<rect x="5.85" y="14.65" width="4.50" height="4.50" fill="#1c1ccc"/>
<text x="19.20" y="19.78" font-size="8.0" font-weight="normal" text-anchor="start" fill="#000" >M25</text>
<line x1="3.10" y1="28.90" x2="13.40" y2="28.90" stroke="#111111" stroke-width="1" />
<path d="M8.10,27.03 L9.97,28.90 L8.10,30.78 L6.22,28.90Z" fill="#111111"/>
<text x="19.20" y="31.78" font-size="8.0" font-weight="normal" text-anchor="start" fill="#000" >Isotype-MMAE</text>
<line x1="3.10" y1="40.70" x2="13.40" y2="40.70" stroke="#36cc36" stroke-width="1" />
<circle cx="8.10" cy="40.70" r="2.25" fill="#50c050"/>
<text x="19.20" y="43.58" font-size="8.0" font-weight="normal" text-anchor="start" fill="#000" >Isotype-AB</text>
</svg>
<rect x="310.40" y="404.20" width="72.85" height="46.10" fill="none" stroke="#000" stroke-width="1.1"/>
<line x1="330.35" y1="391.35" x2="330.35" y2="370.55" stroke="#e8141c" stroke-width="0.8" />
<line x1="328.35" y1="391.35" x2="332.35" y2="391.35" stroke="#e8141c" stroke-width="0.8" />
<line x1="328.35" y1="370.55" x2="332.35" y2="370.55" stroke="#e8141c" stroke-width="0.8" />
<line x1="354.95" y1="395.51" x2="354.95" y2="374.71" stroke="#e8141c" stroke-width="0.8" />
<line x1="352.95" y1="395.51" x2="356.95" y2="395.51" stroke="#e8141c" stroke-width="0.8" />
<line x1="352.95" y1="374.71" x2="356.95" y2="374.71" stroke="#e8141c" stroke-width="0.8" />
<line x1="379.55" y1="398.63" x2="379.55" y2="380.95" stroke="#e8141c" stroke-width="0.8" />
<line x1="377.55" y1="398.63" x2="381.55" y2="398.63" stroke="#e8141c" stroke-width="0.8" />
<line x1="377.55" y1="380.95" x2="381.55" y2="380.95" stroke="#e8141c" stroke-width="0.8" />
<line x1="404.15" y1="394.47" x2="404.15" y2="388.23" stroke="#e8141c" stroke-width="0.8" />
<line x1="402.15" y1="394.47" x2="406.15" y2="394.47" stroke="#e8141c" stroke-width="0.8" />
<line x1="402.15" y1="388.23" x2="406.15" y2="388.23" stroke="#e8141c" stroke-width="0.8" />
<line x1="428.75" y1="400.71" x2="428.75" y2="384.07" stroke="#e8141c" stroke-width="0.8" />
<line x1="426.75" y1="400.71" x2="430.75" y2="400.71" stroke="#e8141c" stroke-width="0.8" />
<line x1="426.75" y1="384.07" x2="430.75" y2="384.07" stroke="#e8141c" stroke-width="0.8" />
<line x1="453.35" y1="396.55" x2="453.35" y2="386.15" stroke="#e8141c" stroke-width="0.8" />
<line x1="451.35" y1="396.55" x2="455.35" y2="396.55" stroke="#e8141c" stroke-width="0.8" />
<line x1="451.35" y1="386.15" x2="455.35" y2="386.15" stroke="#e8141c" stroke-width="0.8" />
<line x1="477.95" y1="401.75" x2="477.95" y2="392.39" stroke="#e8141c" stroke-width="0.8" />
<line x1="475.95" y1="401.75" x2="479.95" y2="401.75" stroke="#e8141c" stroke-width="0.8" />
<line x1="475.95" y1="392.39" x2="479.95" y2="392.39" stroke="#e8141c" stroke-width="0.8" />
<line x1="485.36" y1="412.15" x2="485.36" y2="405.91" stroke="#e8141c" stroke-width="0.8" />
<line x1="483.36" y1="412.15" x2="487.36" y2="412.15" stroke="#e8141c" stroke-width="0.8" />
<line x1="483.36" y1="405.91" x2="487.36" y2="405.91" stroke="#e8141c" stroke-width="0.8" />
<line x1="330.35" y1="354.95" x2="330.35" y2="342.47" stroke="#1c1ccc" stroke-width="0.8" />
<line x1="328.35" y1="354.95" x2="332.35" y2="354.95" stroke="#1c1ccc" stroke-width="0.8" />
<line x1="328.35" y1="342.47" x2="332.35" y2="342.47" stroke="#1c1ccc" stroke-width="0.8" />
<line x1="379.55" y1="369.51" x2="379.55" y2="360.15" stroke="#1c1ccc" stroke-width="0.8" />
<line x1="377.55" y1="369.51" x2="381.55" y2="369.51" stroke="#1c1ccc" stroke-width="0.8" />
<line x1="377.55" y1="360.15" x2="381.55" y2="360.15" stroke="#1c1ccc" stroke-width="0.8" />
<line x1="428.75" y1="385.11" x2="428.75" y2="365.35" stroke="#1c1ccc" stroke-width="0.8" />
<line x1="426.75" y1="385.11" x2="430.75" y2="385.11" stroke="#1c1ccc" stroke-width="0.8" />
<line x1="426.75" y1="365.35" x2="430.75" y2="365.35" stroke="#1c1ccc" stroke-width="0.8" />
<line x1="453.35" y1="379.91" x2="453.35" y2="369.51" stroke="#1c1ccc" stroke-width="0.8" />
<line x1="451.35" y1="379.91" x2="455.35" y2="379.91" stroke="#1c1ccc" stroke-width="0.8" />
<line x1="451.35" y1="369.51" x2="455.35" y2="369.51" stroke="#1c1ccc" stroke-width="0.8" />
<line x1="477.95" y1="389.27" x2="477.95" y2="375.75" stroke="#1c1ccc" stroke-width="0.8" />
<line x1="475.95" y1="389.27" x2="479.95" y2="389.27" stroke="#1c1ccc" stroke-width="0.8" />
<line x1="475.95" y1="375.75" x2="479.95" y2="375.75" stroke="#1c1ccc" stroke-width="0.8" />
<line x1="485.36" y1="394.47" x2="485.36" y2="384.07" stroke="#1c1ccc" stroke-width="0.8" />
<line x1="483.36" y1="394.47" x2="487.36" y2="394.47" stroke="#1c1ccc" stroke-width="0.8" />
<line x1="483.36" y1="384.07" x2="487.36" y2="384.07" stroke="#1c1ccc" stroke-width="0.8" />
<line x1="330.35" y1="346.11" x2="330.35" y2="329.47" stroke="#444" stroke-width="0.8" />
<line x1="328.35" y1="346.11" x2="332.35" y2="346.11" stroke="#444" stroke-width="0.8" />
<line x1="328.35" y1="329.47" x2="332.35" y2="329.47" stroke="#444" stroke-width="0.8" />
<line x1="354.95" y1="357.03" x2="354.95" y2="338.31" stroke="#444" stroke-width="0.8" />
<line x1="352.95" y1="357.03" x2="356.95" y2="357.03" stroke="#444" stroke-width="0.8" />
<line x1="352.95" y1="338.31" x2="356.95" y2="338.31" stroke="#444" stroke-width="0.8" />
<line x1="379.55" y1="351.31" x2="379.55" y2="332.59" stroke="#444" stroke-width="0.8" />
<line x1="377.55" y1="351.31" x2="381.55" y2="351.31" stroke="#444" stroke-width="0.8" />
<line x1="377.55" y1="332.59" x2="381.55" y2="332.59" stroke="#444" stroke-width="0.8" />
<line x1="404.15" y1="355.99" x2="404.15" y2="350.79" stroke="#444" stroke-width="0.8" />
<line x1="402.15" y1="355.99" x2="406.15" y2="355.99" stroke="#444" stroke-width="0.8" />
<line x1="402.15" y1="350.79" x2="406.15" y2="350.79" stroke="#444" stroke-width="0.8" />
<line x1="428.75" y1="360.15" x2="428.75" y2="346.63" stroke="#444" stroke-width="0.8" />
<line x1="426.75" y1="360.15" x2="430.75" y2="360.15" stroke="#444" stroke-width="0.8" />
<line x1="426.75" y1="346.63" x2="430.75" y2="346.63" stroke="#444" stroke-width="0.8" />
<line x1="453.35" y1="367.43" x2="453.35" y2="348.71" stroke="#444" stroke-width="0.8" />
<line x1="451.35" y1="367.43" x2="455.35" y2="367.43" stroke="#444" stroke-width="0.8" />
<line x1="451.35" y1="348.71" x2="455.35" y2="348.71" stroke="#444" stroke-width="0.8" />
<line x1="477.95" y1="368.47" x2="477.95" y2="353.91" stroke="#444" stroke-width="0.8" />
<line x1="475.95" y1="368.47" x2="479.95" y2="368.47" stroke="#444" stroke-width="0.8" />
<line x1="475.95" y1="353.91" x2="479.95" y2="353.91" stroke="#444" stroke-width="0.8" />
<line x1="485.36" y1="401.75" x2="485.36" y2="388.23" stroke="#444" stroke-width="0.8" />
<line x1="483.36" y1="401.75" x2="487.36" y2="401.75" stroke="#444" stroke-width="0.8" />
<line x1="483.36" y1="388.23" x2="487.36" y2="388.23" stroke="#444" stroke-width="0.8" />
<line x1="428.75" y1="364.31" x2="428.75" y2="341.43" stroke="#50c050" stroke-width="0.8" />
<line x1="426.75" y1="364.31" x2="430.75" y2="364.31" stroke="#50c050" stroke-width="0.8" />
<line x1="426.75" y1="341.43" x2="430.75" y2="341.43" stroke="#50c050" stroke-width="0.8" />
<path d="M330.35,381.99 L331.38,382.14 L332.40,382.29 L333.43,382.45 L334.45,382.60 L335.48,382.76 L336.50,382.91 L337.53,383.07 L338.55,383.22 L339.57,383.38 L340.60,383.53 L341.62,383.69 L342.65,383.84 L343.68,384.00 L344.70,384.15 L345.73,384.30 L346.75,384.46 L347.77,384.61 L348.80,384.76 L349.82,384.91 L350.85,385.05 L351.88,385.20 L352.90,385.34 L353.93,385.49 L354.95,385.63 L355.97,385.77 L357.00,385.91 L358.02,386.05 L359.05,386.19 L360.07,386.32 L361.10,386.46 L362.12,386.59 L363.15,386.73 L364.18,386.86 L365.20,386.99 L366.23,387.12 L367.25,387.25 L368.27,387.38 L369.30,387.51 L370.32,387.64 L371.35,387.77 L372.38,387.89 L373.40,388.02 L374.43,388.14 L375.45,388.27 L376.48,388.39 L377.50,388.51 L378.53,388.63 L379.55,388.75 L380.57,388.87 L381.60,388.98 L382.62,389.10 L383.65,389.21 L384.68,389.33 L385.70,389.44 L386.73,389.55 L387.75,389.66 L388.77,389.76 L389.80,389.87 L390.82,389.98 L391.85,390.08 L392.88,390.19 L393.90,390.29 L394.93,390.40 L395.95,390.50 L396.97,390.61 L398.00,390.71 L399.02,390.82 L400.05,390.92 L401.07,391.03 L402.10,391.13 L403.12,391.24 L404.15,391.35 L405.17,391.46 L406.20,391.57 L407.22,391.67 L408.25,391.78 L409.27,391.89 L410.30,392.00 L411.32,392.11 L412.35,392.22 L413.38,392.32 L414.40,392.43 L415.43,392.54 L416.45,392.65 L417.47,392.76 L418.50,392.87 L419.52,392.98 L420.55,393.08 L421.57,393.19 L422.60,393.30 L423.62,393.41 L424.65,393.52 L425.68,393.62 L426.70,393.73 L427.73,393.84 L428.75,393.95 L429.77,394.06 L430.80,394.17 L431.82,394.27 L432.85,394.38 L433.88,394.48 L434.90,394.59 L435.93,394.69 L436.95,394.80 L437.98,394.90 L439.00,395.01 L440.03,395.11 L441.05,395.22 L442.07,395.32 L443.10,395.43 L444.12,395.54 L445.15,395.64 L446.18,395.75 L447.20,395.86 L448.23,395.97 L449.25,396.09 L450.28,396.20 L451.30,396.32 L452.33,396.43 L453.35,396.55 L454.38,396.67 L455.40,396.79 L456.43,396.90 L457.45,397.02 L458.48,397.13 L459.50,397.25 L460.53,397.36 L461.55,397.48 L462.58,397.59 L463.60,397.71 L464.63,397.83 L465.65,397.95 L466.68,398.07 L467.70,398.20 L468.73,398.33 L469.75,398.46 L470.78,398.59 L471.80,398.73 L472.83,398.88 L473.85,399.02 L474.88,399.18 L475.90,399.34 L476.93,399.50 L477.95,399.67 L479.01,399.86 L480.07,400.07 L481.12,400.30 L482.18,400.53 L483.24,400.77 L484.30,401.00 L485.36,401.23" fill="none" stroke-linejoin="round" stroke="#e8141c" stroke-width="1.75"/>
<path d="M330.35,357.03 L331.38,357.18 L332.40,357.34 L333.43,357.49 L334.45,357.65 L335.48,357.80 L336.50,357.96 L337.53,358.11 L338.55,358.27 L339.57,358.43 L340.60,358.58 L341.62,358.74 L342.65,358.90 L343.68,359.05 L344.70,359.20 L345.73,359.36 L346.75,359.51 L347.77,359.66 L348.80,359.81 L349.82,359.96 L350.85,360.11 L351.88,360.25 L352.90,360.39 L353.93,360.53 L354.95,360.67 L355.97,360.80 L357.00,360.94 L358.02,361.07 L359.05,361.19 L360.07,361.32 L361.10,361.44 L362.12,361.56 L363.15,361.68 L364.18,361.80 L365.20,361.91 L366.23,362.03 L367.25,362.15 L368.27,362.26 L369.30,362.38 L370.32,362.49 L371.35,362.61 L372.38,362.72 L373.40,362.84 L374.43,362.96 L375.45,363.08 L376.48,363.20 L377.50,363.33 L378.53,363.45 L379.55,363.58 L380.57,363.71 L381.60,363.84 L382.62,363.96 L383.65,364.08 L384.68,364.20 L385.70,364.32 L386.73,364.43 L387.75,364.55 L388.77,364.67 L389.80,364.79 L390.82,364.91 L391.85,365.04 L392.88,365.17 L393.90,365.30 L394.93,365.43 L395.95,365.57 L396.97,365.71 L398.00,365.86 L399.02,366.02 L400.05,366.18 L401.07,366.35 L402.10,366.53 L403.12,366.72 L404.15,366.91 L405.17,367.11 L406.20,367.33 L407.22,367.55 L408.25,367.78 L409.27,368.01 L410.30,368.25 L411.32,368.50 L412.35,368.76 L413.38,369.01 L414.40,369.28 L415.43,369.54 L416.45,369.82 L417.47,370.09 L418.50,370.37 L419.52,370.64 L420.55,370.92 L421.57,371.20 L422.60,371.49 L423.62,371.77 L424.65,372.05 L425.68,372.33 L426.70,372.60 L427.73,372.88 L428.75,373.15 L429.77,373.42 L430.80,373.70 L431.82,373.98 L432.85,374.26 L433.88,374.54 L434.90,374.83 L435.93,375.11 L436.95,375.40 L437.98,375.69 L439.00,375.98 L440.03,376.27 L441.05,376.56 L442.07,376.85 L443.10,377.13 L444.12,377.42 L445.15,377.71 L446.18,377.99 L447.20,378.27 L448.23,378.55 L449.25,378.83 L450.28,379.11 L451.30,379.38 L452.33,379.65 L453.35,379.91 L454.38,380.17 L455.40,380.43 L456.43,380.68 L457.45,380.93 L458.48,381.18 L459.50,381.43 L460.53,381.68 L461.55,381.92 L462.58,382.16 L463.60,382.40 L464.63,382.64 L465.65,382.88 L466.68,383.11 L467.70,383.35 L468.73,383.59 L469.75,383.82 L470.78,384.06 L471.80,384.30 L472.83,384.53 L473.85,384.77 L474.88,385.01 L475.90,385.25 L476.93,385.49 L477.95,385.73 L479.01,385.99 L480.07,386.24 L481.12,386.49 L482.18,386.74 L483.24,387.00 L484.30,387.25 L485.36,387.50" fill="none" stroke-linejoin="round" stroke="#1c1ccc" stroke-width="1.75"/>
<path d="M330.35,349.75 L331.35,349.75 L332.36,349.75 L333.36,349.75 L334.36,349.75 L335.36,349.75 L336.37,349.75 L337.37,349.75 L338.37,349.75 L339.38,349.75 L340.38,349.75 L341.38,349.75 L342.39,349.75 L343.39,349.75 L344.39,349.75 L345.39,349.75 L346.40,349.75 L347.40,349.75 L348.40,349.75 L349.41,349.75 L350.41,349.75 L351.41,349.75 L352.41,349.75 L353.42,349.75 L354.42,349.75 L355.42,349.75 L356.43,349.75 L357.43,349.75 L358.43,349.75 L359.43,349.75 L360.44,349.75 L361.44,349.75 L362.44,349.75 L363.45,349.75 L364.45,349.75 L365.45,349.75 L366.46,349.75 L367.46,349.75 L368.46,349.75 L369.46,349.75 L370.47,349.75 L371.47,349.75 L372.47,349.75 L373.48,349.75 L374.48,349.75 L375.48,349.75 L376.48,349.75 L377.49,349.75 L378.49,349.75 L379.49,349.75 L380.50,349.75 L381.50,349.75 L382.50,349.75 L383.50,349.75 L384.51,349.75 L385.51,349.75 L386.51,349.75 L387.52,349.75 L388.52,349.75 L389.52,349.75 L390.53,349.75 L391.53,349.75 L392.53,349.75 L393.53,349.75 L394.54,349.75 L395.54,349.75 L396.54,349.75 L397.55,349.75 L398.55,349.75 L399.55,349.75 L400.55,349.75 L401.56,349.75 L402.56,349.75 L403.56,349.75 L404.57,349.75 L405.57,349.75 L406.57,349.75 L407.58,349.75 L408.58,349.75 L409.58,349.75 L410.58,349.75 L411.59,349.75 L412.59,349.75 L413.59,349.75 L414.60,349.75 L415.60,349.75 L416.60,349.75 L417.60,349.75 L418.61,349.75 L419.61,349.75 L420.61,349.75 L421.62,349.75 L422.62,349.75 L423.62,349.75 L424.62,349.75 L425.63,349.75 L426.63,349.75 L427.63,349.75 L428.64,349.75 L429.64,349.75 L430.64,349.75 L431.65,349.75 L432.65,349.75 L433.65,349.75 L434.65,349.75 L435.66,349.75 L436.66,349.75 L437.66,349.75 L438.67,349.75 L439.67,349.75 L440.67,349.75 L441.67,349.75 L442.68,349.75 L443.68,349.75 L444.68,349.75 L445.69,349.75 L446.69,349.75 L447.69,349.75 L448.69,349.75 L449.70,349.75 L450.70,349.75 L451.70,349.75 L452.71,349.75 L453.71,349.75 L454.71,349.75 L455.72,349.75 L456.72,349.75 L457.72,349.75 L458.72,349.75 L459.73,349.75 L460.73,349.75 L461.78,349.76 L462.84,349.79 L463.89,349.85 L464.95,349.94 L466.00,350.08 L467.06,350.25 L468.11,350.48 L469.34,350.73 L470.57,351.02 L471.80,351.51 L473.03,352.35 L474.26,353.56 L475.49,355.07 L476.72,356.90 L477.95,359.11 L479.18,361.79 L480.41,365.35 L481.64,370.17 L482.87,375.75 L484.11,381.87 L485.36,388.23" fill="none" stroke-linejoin="round" stroke="#111111" stroke-width="1.75"/>
<path d="M330.35,350.27 L331.38,350.31 L332.40,350.36 L333.43,350.40 L334.45,350.44 L335.48,350.48 L336.50,350.52 L337.53,350.56 L338.55,350.60 L339.57,350.64 L340.60,350.68 L341.62,350.72 L342.65,350.76 L343.68,350.80 L344.70,350.84 L345.73,350.88 L346.75,350.92 L347.77,350.97 L348.80,351.01 L349.82,351.06 L350.85,351.11 L351.88,351.16 L352.90,351.21 L353.93,351.26 L354.95,351.31 L355.97,351.36 L357.00,351.42 L358.02,351.47 L359.05,351.53 L360.07,351.58 L361.10,351.64 L362.12,351.70 L363.15,351.75 L364.18,351.81 L365.20,351.87 L366.23,351.93 L367.25,351.99 L368.27,352.06 L369.30,352.12 L370.32,352.19 L371.35,352.25 L372.38,352.32 L373.40,352.39 L374.43,352.47 L375.45,352.54 L376.48,352.62 L377.50,352.70 L378.53,352.78 L379.55,352.87 L380.57,352.96 L381.60,353.05 L382.62,353.14 L383.65,353.24 L384.68,353.33 L385.70,353.43 L386.73,353.54 L387.75,353.64 L388.77,353.75 L389.80,353.85 L390.82,353.96 L391.85,354.07 L392.88,354.18 L393.90,354.30 L394.93,354.41 L395.95,354.53 L396.97,354.64 L398.00,354.76 L399.02,354.88 L400.05,354.99 L401.07,355.11 L402.10,355.23 L403.12,355.35 L404.15,355.47 L405.17,355.59 L406.20,355.70 L407.22,355.82 L408.25,355.93 L409.27,356.04 L410.30,356.15 L411.32,356.26 L412.35,356.38 L413.38,356.49 L414.40,356.60 L415.43,356.72 L416.45,356.84 L417.47,356.96 L418.50,357.08 L419.52,357.21 L420.55,357.34 L421.57,357.47 L422.60,357.62 L423.62,357.76 L424.65,357.91 L425.68,358.07 L426.70,358.24 L427.73,358.41 L428.75,358.59 L429.77,358.78 L430.80,358.97 L431.82,359.18 L432.85,359.39 L433.88,359.61 L434.90,359.83 L435.93,360.06 L436.95,360.30 L437.98,360.54 L439.00,360.78 L440.03,361.03 L441.05,361.27 L442.07,361.53 L443.10,361.78 L444.12,362.04 L445.15,362.29 L446.18,362.55 L447.20,362.80 L448.23,363.06 L449.25,363.31 L450.28,363.57 L451.30,363.82 L452.33,364.07 L453.35,364.31 L454.38,364.54 L455.40,364.75 L456.43,364.93 L457.45,365.10 L458.48,365.26 L459.50,365.41 L460.53,365.55 L461.55,365.68 L462.58,365.82 L463.60,365.96 L464.63,366.11 L465.65,366.27 L466.68,366.44 L467.70,366.63 L468.73,366.85 L469.75,367.08 L470.78,367.34 L471.80,367.64 L472.83,367.97 L473.85,368.33 L474.88,368.74 L475.90,369.19 L476.93,369.69 L477.95,370.24 L479.01,370.92 L480.07,371.76 L481.12,372.71 L482.18,373.73 L483.24,374.78 L484.30,375.81 L485.36,376.79" fill="none" stroke-linejoin="round" stroke="#36cc36" stroke-width="1.75"/>
<circle cx="330.35" cy="381.26" r="3.00" fill="#e8141c"/>
<circle cx="354.95" cy="385.11" r="3.00" fill="#e8141c"/>
<circle cx="379.55" cy="389.48" r="3.00" fill="#e8141c"/>
<circle cx="404.15" cy="391.35" r="3.00" fill="#e8141c"/>
<circle cx="428.75" cy="392.39" r="3.00" fill="#e8141c"/>
<circle cx="453.35" cy="391.35" r="3.00" fill="#e8141c"/>
<circle cx="477.95" cy="396.97" r="3.00" fill="#e8141c"/>
<circle cx="485.36" cy="409.03" r="3.00" fill="#e8141c"/>
<circle cx="330.35" cy="349.75" r="3.00" fill="#50c050"/>
<circle cx="354.95" cy="353.49" r="3.00" fill="#50c050"/>
<circle cx="379.55" cy="354.85" r="3.00" fill="#50c050"/>
<circle cx="404.15" cy="355.37" r="3.00" fill="#50c050"/>
<circle cx="428.75" cy="356.72" r="3.00" fill="#50c050"/>
<circle cx="453.35" cy="365.97" r="3.00" fill="#50c050"/>
<circle cx="477.95" cy="368.78" r="3.00" fill="#50c050"/>
<circle cx="485.36" cy="377.00" r="3.00" fill="#50c050"/>
<path d="M330.35,335.81 L332.85,338.31 L330.35,340.81 L327.85,338.31Z" fill="#111111"/>
<path d="M354.95,345.17 L357.45,347.67 L354.95,350.17 L352.45,347.67Z" fill="#111111"/>
<path d="M379.55,340.80 L382.05,343.30 L379.55,345.80 L377.05,343.30Z" fill="#111111"/>
<path d="M404.15,350.99 L406.65,353.49 L404.15,355.99 L401.65,353.49Z" fill="#111111"/>
<path d="M428.75,351.31 L431.25,353.81 L428.75,356.31 L426.25,353.81Z" fill="#111111"/>
<path d="M453.35,358.69 L455.85,361.19 L453.35,363.69 L450.85,361.19Z" fill="#111111"/>
<path d="M477.95,358.69 L480.45,361.19 L477.95,363.69 L475.45,361.19Z" fill="#111111"/>
<path d="M485.36,392.70 L487.86,395.20 L485.36,397.70 L482.86,395.20Z" fill="#111111"/>
<rect x="327.35" y="345.50" width="6.00" height="6.00" fill="#1c1ccc"/>
<rect x="351.95" y="360.27" width="6.00" height="6.00" fill="#1c1ccc"/>
<rect x="376.55" y="362.04" width="6.00" height="6.00" fill="#1c1ccc"/>
<rect x="401.15" y="366.20" width="6.00" height="6.00" fill="#1c1ccc"/>
<rect x="425.75" y="372.96" width="6.00" height="6.00" fill="#1c1ccc"/>
<rect x="450.35" y="371.61" width="6.00" height="6.00" fill="#1c1ccc"/>
<rect x="474.95" y="379.30" width="6.00" height="6.00" fill="#1c1ccc"/>
<rect x="482.36" y="386.37" width="6.00" height="6.00" fill="#1c1ccc"/>
<text x="12.50" y="526.00" font-size="13.5" font-weight="bold" text-anchor="start" fill="#000" >F</text>
<text x="148.00" y="523.00" font-size="11" font-weight="bold" text-anchor="middle" fill="#000" >A7683</text>
<line x1="50.30" y1="523.60" x2="50.30" y2="656.50" stroke="#000" stroke-width="2.3" />
<line x1="44.30" y1="655.30" x2="50.30" y2="655.30" stroke="#000" stroke-width="2.2" />
<text x="43.00" y="658.74" font-size="9.7" font-weight="bold" text-anchor="end" fill="#000" >0</text>
<line x1="44.30" y1="629.16" x2="50.30" y2="629.16" stroke="#000" stroke-width="2.2" />
<text x="43.00" y="632.60" font-size="9.7" font-weight="bold" text-anchor="end" fill="#000" >25</text>
<line x1="44.30" y1="603.02" x2="50.30" y2="603.02" stroke="#000" stroke-width="2.2" />
<text x="43.00" y="606.46" font-size="9.7" font-weight="bold" text-anchor="end" fill="#000" >50</text>
<line x1="44.30" y1="576.88" x2="50.30" y2="576.88" stroke="#000" stroke-width="2.2" />
<text x="43.00" y="580.32" font-size="9.7" font-weight="bold" text-anchor="end" fill="#000" >75</text>
<line x1="44.30" y1="550.74" x2="50.30" y2="550.74" stroke="#000" stroke-width="2.2" />
<text x="43.00" y="554.18" font-size="9.7" font-weight="bold" text-anchor="end" fill="#000" >100</text>
<line x1="44.30" y1="524.60" x2="50.30" y2="524.60" stroke="#000" stroke-width="2.2" />
<text x="43.00" y="528.04" font-size="9.7" font-weight="bold" text-anchor="end" fill="#000" >125</text>
<text transform="translate(22.20,589.70) rotate(-90)" font-size="10.9" font-weight="bold" text-anchor="middle">ATP level (%)</text>
<line x1="49.20" y1="655.30" x2="244.60" y2="655.30" stroke="#000" stroke-width="2.3" />
<line x1="50.00" y1="655.30" x2="50.00" y2="661.60" stroke="#000" stroke-width="2.2" />
<text transform="translate(52.50,668.90) rotate(-45)" font-size="9.9" font-weight="bold" text-anchor="end">0.0001</text>
<line x1="74.20" y1="655.30" x2="74.20" y2="661.60" stroke="#000" stroke-width="2.2" />
<text transform="translate(76.70,668.90) rotate(-45)" font-size="9.9" font-weight="bold" text-anchor="end">0.001</text>
<line x1="98.40" y1="655.30" x2="98.40" y2="661.60" stroke="#000" stroke-width="2.2" />
<text transform="translate(100.90,668.90) rotate(-45)" font-size="9.9" font-weight="bold" text-anchor="end">0.01</text>
<line x1="122.60" y1="655.30" x2="122.60" y2="661.60" stroke="#000" stroke-width="2.2" />
<text transform="translate(125.10,668.90) rotate(-45)" font-size="9.9" font-weight="bold" text-anchor="end">0.1</text>
<line x1="146.80" y1="655.30" x2="146.80" y2="661.60" stroke="#000" stroke-width="2.2" />
<text transform="translate(149.30,668.90) rotate(-45)" font-size="9.9" font-weight="bold" text-anchor="end">1</text>
<line x1="171.00" y1="655.30" x2="171.00" y2="661.60" stroke="#000" stroke-width="2.2" />
<text transform="translate(173.50,668.90) rotate(-45)" font-size="9.9" font-weight="bold" text-anchor="end">10</text>
<line x1="195.20" y1="655.30" x2="195.20" y2="661.60" stroke="#000" stroke-width="2.2" />
<text transform="translate(197.70,668.90) rotate(-45)" font-size="9.9" font-weight="bold" text-anchor="end">100</text>
<line x1="219.40" y1="655.30" x2="219.40" y2="661.60" stroke="#000" stroke-width="2.2" />
<text transform="translate(221.90,668.90) rotate(-45)" font-size="9.9" font-weight="bold" text-anchor="end">1,000</text>
<line x1="243.60" y1="655.30" x2="243.60" y2="661.60" stroke="#000" stroke-width="2.2" />
<text transform="translate(246.10,668.90) rotate(-45)" font-size="9.9" font-weight="bold" text-anchor="end">10,000</text>
<text x="145.00" y="691.90" font-size="10.9" font-weight="bold" text-anchor="middle" fill="#000" >nmol/L (log)</text>
<svg x="54.30" y="600.30" width="67.20" height="50.30" overflow="hidden">
<line x1="0.30" y1="4.60" x2="9.50" y2="4.60" stroke="#e8141c" stroke-width="1" />
<circle cx="4.90" cy="4.60" r="2.25" fill="#e8141c"/>
<text x="15.70" y="7.43" font-size="7.85" font-weight="normal" text-anchor="start" fill="#000" >ABBV-085</text>
<line x1="0.30" y1="17.20" x2="9.50" y2="17.20" stroke="#1c1ccc" stroke-width="1" />
<rect x="2.65" y="14.95" width="4.50" height="4.50" fill="#1c1ccc"/>
<text x="15.70" y="20.03" font-size="7.85" font-weight="normal" text-anchor="start" fill="#000" >M25</text>
<line x1="0.30" y1="29.90" x2="9.50" y2="29.90" stroke="#111111" stroke-width="1" />
<path d="M4.90,28.03 L6.78,29.90 L4.90,31.78 L3.03,29.90Z" fill="#111111"/>
<text x="15.70" y="32.73" font-size="7.85" font-weight="normal" text-anchor="start" fill="#000" >Isotype-MMAE</text>
<line x1="0.30" y1="42.60" x2="9.50" y2="42.60" stroke="#36cc36" stroke-width="1" />
<circle cx="4.90" cy="42.60" r="2.25" fill="#50c050"/>
<text x="15.70" y="45.43" font-size="7.85" font-weight="normal" text-anchor="start" fill="#000" >Isotype-AB</text>
</svg>
<rect x="54.30" y="600.30" width="67.20" height="50.30" fill="none" stroke="#000" stroke-width="1.1"/>
<line x1="74.20" y1="550.74" x2="74.20" y2="545.51" stroke="#e8141c" stroke-width="0.8" />
<line x1="72.20" y1="550.74" x2="76.20" y2="550.74" stroke="#e8141c" stroke-width="0.8" />
<line x1="72.20" y1="545.51" x2="76.20" y2="545.51" stroke="#e8141c" stroke-width="0.8" />
<line x1="98.40" y1="545.72" x2="98.40" y2="537.98" stroke="#e8141c" stroke-width="0.8" />
<line x1="96.40" y1="545.72" x2="100.40" y2="545.72" stroke="#e8141c" stroke-width="0.8" />
<line x1="96.40" y1="537.98" x2="100.40" y2="537.98" stroke="#e8141c" stroke-width="0.8" />
<line x1="122.60" y1="571.65" x2="122.60" y2="529.83" stroke="#e8141c" stroke-width="0.8" />
<line x1="120.60" y1="571.65" x2="124.60" y2="571.65" stroke="#e8141c" stroke-width="0.8" />
<line x1="120.60" y1="529.83" x2="124.60" y2="529.83" stroke="#e8141c" stroke-width="0.8" />
<line x1="146.80" y1="565.38" x2="146.80" y2="537.15" stroke="#e8141c" stroke-width="0.8" />
<line x1="144.80" y1="565.38" x2="148.80" y2="565.38" stroke="#e8141c" stroke-width="0.8" />
<line x1="144.80" y1="537.15" x2="148.80" y2="537.15" stroke="#e8141c" stroke-width="0.8" />
<line x1="171.00" y1="563.29" x2="171.00" y2="535.06" stroke="#e8141c" stroke-width="0.8" />
<line x1="169.00" y1="563.29" x2="173.00" y2="563.29" stroke="#e8141c" stroke-width="0.8" />
<line x1="169.00" y1="535.06" x2="173.00" y2="535.06" stroke="#e8141c" stroke-width="0.8" />
<line x1="195.20" y1="561.20" x2="195.20" y2="552.83" stroke="#e8141c" stroke-width="0.8" />
<line x1="193.20" y1="561.20" x2="197.20" y2="561.20" stroke="#e8141c" stroke-width="0.8" />
<line x1="193.20" y1="552.83" x2="197.20" y2="552.83" stroke="#e8141c" stroke-width="0.8" />
<line x1="226.68" y1="606.16" x2="226.68" y2="577.93" stroke="#e8141c" stroke-width="0.8" />
<line x1="224.68" y1="606.16" x2="228.68" y2="606.16" stroke="#e8141c" stroke-width="0.8" />
<line x1="224.68" y1="577.93" x2="228.68" y2="577.93" stroke="#e8141c" stroke-width="0.8" />
<line x1="74.20" y1="561.20" x2="74.20" y2="554.92" stroke="#1c1ccc" stroke-width="0.8" />
<line x1="72.20" y1="561.20" x2="76.20" y2="561.20" stroke="#1c1ccc" stroke-width="0.8" />
<line x1="72.20" y1="554.92" x2="76.20" y2="554.92" stroke="#1c1ccc" stroke-width="0.8" />
<line x1="98.40" y1="562.24" x2="98.40" y2="554.92" stroke="#1c1ccc" stroke-width="0.8" />
<line x1="96.40" y1="562.24" x2="100.40" y2="562.24" stroke="#1c1ccc" stroke-width="0.8" />
<line x1="96.40" y1="554.92" x2="100.40" y2="554.92" stroke="#1c1ccc" stroke-width="0.8" />
<line x1="122.60" y1="568.52" x2="122.60" y2="559.10" stroke="#1c1ccc" stroke-width="0.8" />
<line x1="120.60" y1="568.52" x2="124.60" y2="568.52" stroke="#1c1ccc" stroke-width="0.8" />
<line x1="120.60" y1="559.10" x2="124.60" y2="559.10" stroke="#1c1ccc" stroke-width="0.8" />
<line x1="146.80" y1="569.56" x2="146.80" y2="560.15" stroke="#1c1ccc" stroke-width="0.8" />
<line x1="144.80" y1="569.56" x2="148.80" y2="569.56" stroke="#1c1ccc" stroke-width="0.8" />
<line x1="144.80" y1="560.15" x2="148.80" y2="560.15" stroke="#1c1ccc" stroke-width="0.8" />
<line x1="195.20" y1="571.65" x2="195.20" y2="563.29" stroke="#1c1ccc" stroke-width="0.8" />
<line x1="193.20" y1="571.65" x2="197.20" y2="571.65" stroke="#1c1ccc" stroke-width="0.8" />
<line x1="193.20" y1="563.29" x2="197.20" y2="563.29" stroke="#1c1ccc" stroke-width="0.8" />
<line x1="219.40" y1="571.65" x2="219.40" y2="558.06" stroke="#1c1ccc" stroke-width="0.8" />
<line x1="217.40" y1="571.65" x2="221.40" y2="571.65" stroke="#1c1ccc" stroke-width="0.8" />
<line x1="217.40" y1="558.06" x2="221.40" y2="558.06" stroke="#1c1ccc" stroke-width="0.8" />
<line x1="226.68" y1="569.56" x2="226.68" y2="561.20" stroke="#1c1ccc" stroke-width="0.8" />
<line x1="224.68" y1="569.56" x2="228.68" y2="569.56" stroke="#1c1ccc" stroke-width="0.8" />
<line x1="224.68" y1="561.20" x2="228.68" y2="561.20" stroke="#1c1ccc" stroke-width="0.8" />
<line x1="74.20" y1="578.66" x2="74.20" y2="559.31" stroke="#444" stroke-width="0.8" />
<line x1="72.20" y1="578.66" x2="76.20" y2="578.66" stroke="#444" stroke-width="0.8" />
<line x1="72.20" y1="559.31" x2="76.20" y2="559.31" stroke="#444" stroke-width="0.8" />
<line x1="171.00" y1="571.65" x2="171.00" y2="561.20" stroke="#444" stroke-width="0.8" />
<line x1="169.00" y1="571.65" x2="173.00" y2="571.65" stroke="#444" stroke-width="0.8" />
<line x1="169.00" y1="561.20" x2="173.00" y2="561.20" stroke="#444" stroke-width="0.8" />
<line x1="219.40" y1="584.20" x2="219.40" y2="571.65" stroke="#444" stroke-width="0.8" />
<line x1="217.40" y1="584.20" x2="221.40" y2="584.20" stroke="#444" stroke-width="0.8" />
<line x1="217.40" y1="571.65" x2="221.40" y2="571.65" stroke="#444" stroke-width="0.8" />
<line x1="226.68" y1="582.11" x2="226.68" y2="569.56" stroke="#444" stroke-width="0.8" />
<line x1="224.68" y1="582.11" x2="228.68" y2="582.11" stroke="#444" stroke-width="0.8" />
<line x1="224.68" y1="569.56" x2="228.68" y2="569.56" stroke="#444" stroke-width="0.8" />
<line x1="122.60" y1="584.20" x2="122.60" y2="558.06" stroke="#50c050" stroke-width="0.8" />
<line x1="120.60" y1="584.20" x2="124.60" y2="584.20" stroke="#50c050" stroke-width="0.8" />
<line x1="120.60" y1="558.06" x2="124.60" y2="558.06" stroke="#50c050" stroke-width="0.8" />
<line x1="146.80" y1="584.20" x2="146.80" y2="567.47" stroke="#50c050" stroke-width="0.8" />
<line x1="144.80" y1="584.20" x2="148.80" y2="584.20" stroke="#50c050" stroke-width="0.8" />
<line x1="144.80" y1="567.47" x2="148.80" y2="567.47" stroke="#50c050" stroke-width="0.8" />
<line x1="171.00" y1="588.38" x2="171.00" y2="571.65" stroke="#50c050" stroke-width="0.8" />
<line x1="169.00" y1="588.38" x2="173.00" y2="588.38" stroke="#50c050" stroke-width="0.8" />
<line x1="169.00" y1="571.65" x2="173.00" y2="571.65" stroke="#50c050" stroke-width="0.8" />
<line x1="195.20" y1="575.83" x2="195.20" y2="567.47" stroke="#50c050" stroke-width="0.8" />
<line x1="193.20" y1="575.83" x2="197.20" y2="575.83" stroke="#50c050" stroke-width="0.8" />
<line x1="193.20" y1="567.47" x2="197.20" y2="567.47" stroke="#50c050" stroke-width="0.8" />
<line x1="226.68" y1="559.10" x2="226.68" y2="529.83" stroke="#50c050" stroke-width="0.8" />
<line x1="224.68" y1="559.10" x2="228.68" y2="559.10" stroke="#50c050" stroke-width="0.8" />
<line x1="224.68" y1="529.83" x2="228.68" y2="529.83" stroke="#50c050" stroke-width="0.8" />
<path d="M74.20,550.74 L75.21,550.74 L76.22,550.74 L77.23,550.74 L78.23,550.74 L79.24,550.74 L80.25,550.74 L81.26,550.74 L82.27,550.74 L83.28,550.74 L84.28,550.74 L85.29,550.74 L86.30,550.74 L87.31,550.74 L88.32,550.74 L89.33,550.74 L90.33,550.74 L91.34,550.74 L92.35,550.74 L93.36,550.74 L94.37,550.74 L95.38,550.74 L96.38,550.74 L97.39,550.74 L98.40,550.74 L99.41,550.74 L100.42,550.74 L101.42,550.74 L102.43,550.74 L103.44,550.74 L104.45,550.74 L105.46,550.74 L106.47,550.74 L107.47,550.74 L108.48,550.74 L109.49,550.74 L110.50,550.74 L111.51,550.74 L112.52,550.74 L113.53,550.74 L114.53,550.74 L115.54,550.74 L116.55,550.74 L117.56,550.74 L118.57,550.74 L119.58,550.74 L120.58,550.74 L121.59,550.74 L122.60,550.74 L123.61,550.74 L124.62,550.74 L125.62,550.74 L126.63,550.74 L127.64,550.74 L128.65,550.74 L129.66,550.74 L130.67,550.74 L131.68,550.74 L132.68,550.74 L133.69,550.74 L134.70,550.74 L135.71,550.74 L136.72,550.74 L137.72,550.74 L138.73,550.74 L139.74,550.74 L140.75,550.74 L141.76,550.74 L142.77,550.74 L143.78,550.74 L144.78,550.74 L145.79,550.74 L146.80,550.74 L147.81,550.74 L148.82,550.74 L149.82,550.74 L150.83,550.74 L151.84,550.74 L152.85,550.74 L153.86,550.74 L154.87,550.74 L155.88,550.74 L156.88,550.74 L157.89,550.74 L158.90,550.74 L159.91,550.74 L160.92,550.74 L161.93,550.74 L162.93,550.74 L163.94,550.74 L164.95,550.74 L165.96,550.74 L166.97,550.74 L167.97,550.74 L168.98,550.74 L169.99,550.74 L171.00,550.74 L172.01,550.75 L173.02,550.76 L174.03,550.79 L175.03,550.82 L176.04,550.87 L177.05,550.92 L178.06,550.99 L179.07,551.07 L180.07,551.15 L181.08,551.25 L182.09,551.36 L183.10,551.47 L184.11,551.59 L185.12,551.71 L186.12,551.83 L187.13,551.96 L188.14,552.09 L189.15,552.24 L190.16,552.41 L191.17,552.60 L192.17,552.82 L193.18,553.07 L194.19,553.35 L195.20,553.67 L196.21,554.01 L197.22,554.36 L198.22,554.73 L199.23,555.11 L200.24,555.52 L201.25,555.97 L202.26,556.45 L203.27,556.97 L204.27,557.55 L205.28,558.18 L206.29,558.87 L207.30,559.63 L208.31,560.41 L209.32,561.17 L210.32,561.95 L211.33,562.75 L212.34,563.60 L213.35,564.53 L214.36,565.54 L215.37,566.67 L216.38,567.92 L217.38,569.33 L218.39,570.92 L219.40,572.70 L220.44,574.86 L221.48,577.39 L222.52,580.18 L223.56,583.15 L224.60,586.18 L225.64,589.18 L226.68,592.04" fill="none" stroke-linejoin="round" stroke="#e8141c" stroke-width="1.75"/>
<path d="M74.20,558.06 L226.68,565.38" fill="none" stroke-linejoin="round" stroke="#1c1ccc" stroke-width="1.75"/>
<path d="M74.20,556.60 L75.21,556.67 L76.22,556.75 L77.23,556.83 L78.23,556.91 L79.24,556.99 L80.25,557.07 L81.26,557.14 L82.27,557.22 L83.28,557.30 L84.28,557.38 L85.29,557.46 L86.30,557.54 L87.31,557.61 L88.32,557.69 L89.33,557.77 L90.33,557.85 L91.34,557.93 L92.35,558.01 L93.36,558.09 L94.37,558.16 L95.38,558.24 L96.38,558.32 L97.39,558.40 L98.40,558.48 L99.41,558.56 L100.42,558.63 L101.43,558.71 L102.43,558.79 L103.44,558.87 L104.45,558.95 L105.46,559.03 L106.47,559.10 L107.47,559.18 L108.48,559.26 L109.49,559.34 L110.50,559.42 L111.51,559.50 L112.52,559.58 L113.53,559.65 L114.53,559.73 L115.54,559.81 L116.55,559.89 L117.56,559.97 L118.57,560.05 L119.57,560.12 L120.58,560.20 L121.59,560.28 L122.60,560.36 L123.61,560.44 L124.62,560.51 L125.62,560.59 L126.63,560.66 L127.64,560.73 L128.65,560.80 L129.66,560.87 L130.67,560.94 L131.68,561.01 L132.68,561.08 L133.69,561.15 L134.70,561.22 L135.71,561.29 L136.72,561.37 L137.72,561.44 L138.73,561.52 L139.74,561.60 L140.75,561.68 L141.76,561.77 L142.77,561.86 L143.78,561.95 L144.78,562.04 L145.79,562.14 L146.80,562.24 L147.81,562.35 L148.82,562.45 L149.83,562.56 L150.83,562.67 L151.84,562.78 L152.85,562.89 L153.86,563.00 L154.87,563.12 L155.88,563.23 L156.88,563.35 L157.89,563.48 L158.90,563.60 L159.91,563.73 L160.92,563.86 L161.93,563.99 L162.93,564.13 L163.94,564.27 L164.95,564.42 L165.96,564.57 L166.97,564.72 L167.97,564.88 L168.98,565.04 L169.99,565.21 L171.00,565.38 L172.01,565.56 L173.02,565.74 L174.03,565.94 L175.03,566.13 L176.04,566.34 L177.05,566.55 L178.06,566.77 L179.07,566.99 L180.07,567.21 L181.08,567.43 L182.09,567.66 L183.10,567.89 L184.11,568.13 L185.12,568.36 L186.12,568.59 L187.13,568.83 L188.14,569.06 L189.15,569.29 L190.16,569.52 L191.17,569.74 L192.17,569.96 L193.18,570.18 L194.19,570.40 L195.20,570.61 L196.21,570.81 L197.22,571.02 L198.22,571.23 L199.23,571.44 L200.24,571.64 L201.25,571.85 L202.26,572.05 L203.27,572.26 L204.28,572.46 L205.28,572.67 L206.29,572.87 L207.30,573.07 L208.31,573.27 L209.32,573.46 L210.32,573.66 L211.33,573.85 L212.34,574.05 L213.35,574.23 L214.36,574.42 L215.37,574.60 L216.38,574.79 L217.38,574.96 L218.39,575.14 L219.40,575.31 L220.44,575.48 L221.48,575.64 L222.52,575.79 L223.56,575.93 L224.60,576.07 L225.64,576.21 L226.68,576.36" fill="none" stroke-linejoin="round" stroke="#111111" stroke-width="1.75"/>
<path d="M74.20,564.33 L226.68,564.33" fill="none" stroke-linejoin="round" stroke="#36cc36" stroke-width="1.75"/>
<circle cx="74.20" cy="563.29" r="3.00" fill="#50c050"/>
<circle cx="98.40" cy="561.20" r="3.00" fill="#50c050"/>
<circle cx="122.60" cy="569.56" r="3.00" fill="#50c050"/>
<circle cx="146.80" cy="576.36" r="3.00" fill="#50c050"/>
<circle cx="171.00" cy="580.02" r="3.00" fill="#50c050"/>
<circle cx="195.20" cy="571.65" r="3.00" fill="#50c050"/>
<circle cx="219.40" cy="573.74" r="3.00" fill="#50c050"/>
<circle cx="226.68" cy="543.94" r="3.00" fill="#50c050"/>
<path d="M74.20,565.60 L76.70,568.10 L74.20,570.60 L71.70,568.10Z" fill="#111111"/>
<path d="M98.40,547.19 L100.90,549.69 L98.40,552.19 L95.90,549.69Z" fill="#111111"/>
<path d="M122.60,577.52 L125.10,580.02 L122.60,582.52 L120.10,580.02Z" fill="#111111"/>
<path d="M146.80,556.50 L149.30,559.00 L146.80,561.50 L144.30,559.00Z" fill="#111111"/>
<path d="M171.00,564.13 L173.50,566.63 L171.00,569.13 L168.50,566.63Z" fill="#111111"/>
<path d="M219.40,575.11 L221.90,577.61 L219.40,580.11 L216.90,577.61Z" fill="#111111"/>
<path d="M226.68,573.23 L229.18,575.73 L226.68,578.23 L224.18,575.73Z" fill="#111111"/>
<circle cx="74.20" cy="548.23" r="3.00" fill="#e8141c"/>
<circle cx="98.40" cy="543.63" r="3.00" fill="#e8141c"/>
<circle cx="122.60" cy="551.47" r="3.00" fill="#e8141c"/>
<circle cx="146.80" cy="552.83" r="3.00" fill="#e8141c"/>
<circle cx="171.00" cy="552.83" r="3.00" fill="#e8141c"/>
<circle cx="195.20" cy="556.49" r="3.00" fill="#e8141c"/>
<circle cx="219.40" cy="572.17" r="3.00" fill="#e8141c"/>
<circle cx="226.68" cy="591.52" r="3.00" fill="#e8141c"/>
<rect x="71.20" y="554.75" width="6.00" height="6.00" fill="#1c1ccc"/>
<rect x="95.40" y="555.16" width="6.00" height="6.00" fill="#1c1ccc"/>
<rect x="119.60" y="560.91" width="6.00" height="6.00" fill="#1c1ccc"/>
<rect x="143.80" y="561.65" width="6.00" height="6.00" fill="#1c1ccc"/>
<rect x="168.00" y="557.67" width="6.00" height="6.00" fill="#1c1ccc"/>
<rect x="192.20" y="564.68" width="6.00" height="6.00" fill="#1c1ccc"/>
<rect x="216.40" y="561.65" width="6.00" height="6.00" fill="#1c1ccc"/>
<rect x="223.68" y="562.38" width="6.00" height="6.00" fill="#1c1ccc"/>
<text x="262.30" y="526.80" font-size="13.5" font-weight="bold" text-anchor="start" fill="#000" >G</text>
<text x="412.75" y="518.00" font-size="11" font-weight="bold" text-anchor="middle" fill="#000" >AM812</text>
<line x1="303.60" y1="517.50" x2="303.60" y2="657.80" stroke="#000" stroke-width="2.3" />
<line x1="297.60" y1="656.60" x2="303.60" y2="656.60" stroke="#000" stroke-width="2.2" />
<text x="295.60" y="660.11" font-size="9.9" font-weight="bold" text-anchor="end" fill="#000" >0</text>
<line x1="297.60" y1="628.98" x2="303.60" y2="628.98" stroke="#000" stroke-width="2.2" />
<text x="295.60" y="632.49" font-size="9.9" font-weight="bold" text-anchor="end" fill="#000" >25</text>
<line x1="297.60" y1="601.36" x2="303.60" y2="601.36" stroke="#000" stroke-width="2.2" />
<text x="295.60" y="604.87" font-size="9.9" font-weight="bold" text-anchor="end" fill="#000" >50</text>
<line x1="297.60" y1="573.74" x2="303.60" y2="573.74" stroke="#000" stroke-width="2.2" />
<text x="295.60" y="577.25" font-size="9.9" font-weight="bold" text-anchor="end" fill="#000" >75</text>
<line x1="297.60" y1="546.12" x2="303.60" y2="546.12" stroke="#000" stroke-width="2.2" />
<text x="295.60" y="549.63" font-size="9.9" font-weight="bold" text-anchor="end" fill="#000" >100</text>
<line x1="297.60" y1="518.50" x2="303.60" y2="518.50" stroke="#000" stroke-width="2.2" />
<text x="295.60" y="522.01" font-size="9.9" font-weight="bold" text-anchor="end" fill="#000" >125</text>
<text transform="translate(272.60,587.00) rotate(-90)" font-size="11.5" font-weight="bold" text-anchor="middle">ATP level (%)</text>
<line x1="302.50" y1="656.60" x2="518.40" y2="656.60" stroke="#000" stroke-width="2.3" />
<line x1="303.40" y1="656.60" x2="303.40" y2="662.90" stroke="#000" stroke-width="2.2" />
<text transform="translate(305.90,672.90) rotate(-45)" font-size="9.9" font-weight="bold" text-anchor="end">0.0001</text>
<line x1="330.15" y1="656.60" x2="330.15" y2="662.90" stroke="#000" stroke-width="2.2" />
<text transform="translate(332.65,672.90) rotate(-45)" font-size="9.9" font-weight="bold" text-anchor="end">0.001</text>
<line x1="356.90" y1="656.60" x2="356.90" y2="662.90" stroke="#000" stroke-width="2.2" />
<text transform="translate(359.40,672.90) rotate(-45)" font-size="9.9" font-weight="bold" text-anchor="end">0.01</text>
<line x1="383.65" y1="656.60" x2="383.65" y2="662.90" stroke="#000" stroke-width="2.2" />
<text transform="translate(386.15,672.90) rotate(-45)" font-size="9.9" font-weight="bold" text-anchor="end">0.1</text>
<line x1="410.40" y1="656.60" x2="410.40" y2="662.90" stroke="#000" stroke-width="2.2" />
<text transform="translate(412.90,672.90) rotate(-45)" font-size="9.9" font-weight="bold" text-anchor="end">1</text>
<line x1="437.15" y1="656.60" x2="437.15" y2="662.90" stroke="#000" stroke-width="2.2" />
<text transform="translate(439.65,672.90) rotate(-45)" font-size="9.9" font-weight="bold" text-anchor="end">10</text>
<line x1="463.90" y1="656.60" x2="463.90" y2="662.90" stroke="#000" stroke-width="2.2" />
<text transform="translate(466.40,672.90) rotate(-45)" font-size="9.9" font-weight="bold" text-anchor="end">100</text>
<line x1="490.65" y1="656.60" x2="490.65" y2="662.90" stroke="#000" stroke-width="2.2" />
<text transform="translate(493.15,672.90) rotate(-45)" font-size="9.9" font-weight="bold" text-anchor="end">1,000</text>
<line x1="517.40" y1="656.60" x2="517.40" y2="662.90" stroke="#000" stroke-width="2.2" />
<text transform="translate(519.90,672.90) rotate(-45)" font-size="9.9" font-weight="bold" text-anchor="end">10,000</text>
<text x="417.40" y="691.70" font-size="10.9" font-weight="bold" text-anchor="middle" fill="#000" >nmol/L (log)</text>
<svg x="309.50" y="601.70" width="74.70" height="49.50" overflow="hidden">
<line x1="2.00" y1="3.80" x2="12.80" y2="3.80" stroke="#e8141c" stroke-width="1" />
<circle cx="7.40" cy="3.80" r="2.25" fill="#e8141c"/>
<text x="18.80" y="6.79" font-size="8.3" font-weight="normal" text-anchor="start" fill="#000" >ABBV-085</text>
<line x1="2.00" y1="17.50" x2="12.80" y2="17.50" stroke="#1c1ccc" stroke-width="1" />
<path d="M7.40,15.03 L9.88,19.36 L4.93,19.36Z" fill="#1c1ccc"/>
<text x="18.80" y="20.49" font-size="8.3" font-weight="normal" text-anchor="start" fill="#000" >M25</text>
<line x1="2.00" y1="30.60" x2="12.80" y2="30.60" stroke="#222" stroke-width="1" />
<rect x="5.08" y="28.27" width="4.65" height="4.65" fill="none" stroke="#555" stroke-width="1"/>
<text x="18.80" y="33.59" font-size="8.3" font-weight="normal" text-anchor="start" fill="#000" >Isotype-MMAE</text>
<line x1="2.00" y1="44.20" x2="12.80" y2="44.20" stroke="#36cc36" stroke-width="1" />
<path d="M7.40,42.85 L8.75,45.21 L6.05,45.21Z" fill="#55d055"/>
<text x="18.80" y="47.19" font-size="8.3" font-weight="normal" text-anchor="start" fill="#000" >Isotype-AB</text>
</svg>
<rect x="309.50" y="601.70" width="74.70" height="49.50" fill="none" stroke="#000" stroke-width="1.1"/>
<line x1="330.15" y1="560.48" x2="330.15" y2="550.54" stroke="#e8141c" stroke-width="0.8" />
<line x1="328.15" y1="560.48" x2="332.15" y2="560.48" stroke="#e8141c" stroke-width="0.8" />
<line x1="328.15" y1="550.54" x2="332.15" y2="550.54" stroke="#e8141c" stroke-width="0.8" />
<line x1="356.90" y1="578.16" x2="356.90" y2="569.32" stroke="#e8141c" stroke-width="0.8" />
<line x1="354.90" y1="578.16" x2="358.90" y2="578.16" stroke="#e8141c" stroke-width="0.8" />
<line x1="354.90" y1="569.32" x2="358.90" y2="569.32" stroke="#e8141c" stroke-width="0.8" />
<line x1="383.65" y1="581.47" x2="383.65" y2="569.32" stroke="#e8141c" stroke-width="0.8" />
<line x1="381.65" y1="581.47" x2="385.65" y2="581.47" stroke="#e8141c" stroke-width="0.8" />
<line x1="381.65" y1="569.32" x2="385.65" y2="569.32" stroke="#e8141c" stroke-width="0.8" />
<line x1="410.40" y1="584.79" x2="410.40" y2="573.74" stroke="#e8141c" stroke-width="0.8" />
<line x1="408.40" y1="584.79" x2="412.40" y2="584.79" stroke="#e8141c" stroke-width="0.8" />
<line x1="408.40" y1="573.74" x2="412.40" y2="573.74" stroke="#e8141c" stroke-width="0.8" />
<line x1="437.15" y1="581.47" x2="437.15" y2="569.32" stroke="#e8141c" stroke-width="0.8" />
<line x1="435.15" y1="581.47" x2="439.15" y2="581.47" stroke="#e8141c" stroke-width="0.8" />
<line x1="435.15" y1="569.32" x2="439.15" y2="569.32" stroke="#e8141c" stroke-width="0.8" />
<line x1="463.90" y1="580.37" x2="463.90" y2="571.53" stroke="#e8141c" stroke-width="0.8" />
<line x1="461.90" y1="580.37" x2="465.90" y2="580.37" stroke="#e8141c" stroke-width="0.8" />
<line x1="461.90" y1="571.53" x2="465.90" y2="571.53" stroke="#e8141c" stroke-width="0.8" />
<line x1="490.65" y1="581.47" x2="490.65" y2="569.32" stroke="#e8141c" stroke-width="0.8" />
<line x1="488.65" y1="581.47" x2="492.65" y2="581.47" stroke="#e8141c" stroke-width="0.8" />
<line x1="488.65" y1="569.32" x2="492.65" y2="569.32" stroke="#e8141c" stroke-width="0.8" />
<line x1="498.70" y1="590.31" x2="498.70" y2="582.58" stroke="#e8141c" stroke-width="0.8" />
<line x1="496.70" y1="590.31" x2="500.70" y2="590.31" stroke="#e8141c" stroke-width="0.8" />
<line x1="496.70" y1="582.58" x2="500.70" y2="582.58" stroke="#e8141c" stroke-width="0.8" />
<line x1="330.15" y1="549.43" x2="330.15" y2="541.70" stroke="#1c1ccc" stroke-width="0.8" />
<line x1="328.15" y1="549.43" x2="332.15" y2="549.43" stroke="#1c1ccc" stroke-width="0.8" />
<line x1="328.15" y1="541.70" x2="332.15" y2="541.70" stroke="#1c1ccc" stroke-width="0.8" />
<line x1="383.65" y1="585.89" x2="383.65" y2="575.95" stroke="#1c1ccc" stroke-width="0.8" />
<line x1="381.65" y1="585.89" x2="385.65" y2="585.89" stroke="#1c1ccc" stroke-width="0.8" />
<line x1="381.65" y1="575.95" x2="385.65" y2="575.95" stroke="#1c1ccc" stroke-width="0.8" />
<line x1="330.15" y1="570.43" x2="330.15" y2="560.48" stroke="#444" stroke-width="0.8" />
<line x1="328.15" y1="570.43" x2="332.15" y2="570.43" stroke="#444" stroke-width="0.8" />
<line x1="328.15" y1="560.48" x2="332.15" y2="560.48" stroke="#444" stroke-width="0.8" />
<line x1="356.90" y1="567.11" x2="356.90" y2="556.06" stroke="#444" stroke-width="0.8" />
<line x1="354.90" y1="567.11" x2="358.90" y2="567.11" stroke="#444" stroke-width="0.8" />
<line x1="354.90" y1="556.06" x2="358.90" y2="556.06" stroke="#444" stroke-width="0.8" />
<line x1="383.65" y1="562.69" x2="383.65" y2="556.06" stroke="#444" stroke-width="0.8" />
<line x1="381.65" y1="562.69" x2="385.65" y2="562.69" stroke="#444" stroke-width="0.8" />
<line x1="381.65" y1="556.06" x2="385.65" y2="556.06" stroke="#444" stroke-width="0.8" />
<line x1="410.40" y1="583.68" x2="410.40" y2="546.12" stroke="#444" stroke-width="0.8" />
<line x1="408.40" y1="583.68" x2="412.40" y2="583.68" stroke="#444" stroke-width="0.8" />
<line x1="408.40" y1="546.12" x2="412.40" y2="546.12" stroke="#444" stroke-width="0.8" />
<line x1="330.15" y1="546.12" x2="330.15" y2="518.50" stroke="#55d055" stroke-width="0.8" />
<line x1="328.15" y1="546.12" x2="332.15" y2="546.12" stroke="#55d055" stroke-width="0.8" />
<line x1="328.15" y1="518.50" x2="332.15" y2="518.50" stroke="#55d055" stroke-width="0.8" />
<line x1="356.90" y1="532.86" x2="356.90" y2="526.23" stroke="#55d055" stroke-width="0.8" />
<line x1="354.90" y1="532.86" x2="358.90" y2="532.86" stroke="#55d055" stroke-width="0.8" />
<line x1="354.90" y1="526.23" x2="358.90" y2="526.23" stroke="#55d055" stroke-width="0.8" />
<line x1="383.65" y1="525.13" x2="383.65" y2="520.71" stroke="#55d055" stroke-width="0.8" />
<line x1="381.65" y1="525.13" x2="385.65" y2="525.13" stroke="#55d055" stroke-width="0.8" />
<line x1="381.65" y1="520.71" x2="385.65" y2="520.71" stroke="#55d055" stroke-width="0.8" />
<line x1="437.15" y1="526.23" x2="437.15" y2="520.16" stroke="#55d055" stroke-width="0.8" />
<line x1="435.15" y1="526.23" x2="439.15" y2="526.23" stroke="#55d055" stroke-width="0.8" />
<line x1="435.15" y1="520.16" x2="439.15" y2="520.16" stroke="#55d055" stroke-width="0.8" />
<line x1="463.90" y1="533.97" x2="463.90" y2="519.60" stroke="#55d055" stroke-width="0.8" />
<line x1="461.90" y1="533.97" x2="465.90" y2="533.97" stroke="#55d055" stroke-width="0.8" />
<line x1="461.90" y1="519.60" x2="465.90" y2="519.60" stroke="#55d055" stroke-width="0.8" />
<line x1="490.65" y1="551.09" x2="490.65" y2="536.40" stroke="#55d055" stroke-width="0.8" />
<line x1="488.65" y1="551.09" x2="492.65" y2="551.09" stroke="#55d055" stroke-width="0.8" />
<line x1="488.65" y1="536.40" x2="492.65" y2="536.40" stroke="#55d055" stroke-width="0.8" />
<line x1="498.70" y1="568.22" x2="498.70" y2="561.59" stroke="#55d055" stroke-width="0.8" />
<line x1="496.70" y1="568.22" x2="500.70" y2="568.22" stroke="#55d055" stroke-width="0.8" />
<line x1="496.70" y1="561.59" x2="500.70" y2="561.59" stroke="#55d055" stroke-width="0.8" />
<path d="M330.15,564.90 L498.70,582.58" fill="none" stroke-linejoin="round" stroke="#e8141c" stroke-width="1.75"/>
<path d="M330.15,564.35 L498.70,581.47" fill="none" stroke-linejoin="round" stroke="#1c1ccc" stroke-width="1.75"/>
<path d="M330.15,558.27 L498.70,578.16" fill="none" stroke-linejoin="round" stroke="#222" stroke-width="1.75"/>
<path d="M330.15,546.12 L331.16,546.12 L332.16,546.12 L333.17,546.12 L334.17,546.12 L335.18,546.12 L336.18,546.12 L337.19,546.12 L338.19,546.12 L339.20,546.12 L340.20,546.12 L341.21,546.12 L342.21,546.12 L343.22,546.12 L344.22,546.12 L345.23,546.12 L346.23,546.12 L347.24,546.12 L348.24,546.12 L349.25,546.12 L350.25,546.12 L351.26,546.12 L352.26,546.12 L353.27,546.12 L354.27,546.12 L355.28,546.12 L356.29,546.12 L357.29,546.12 L358.30,546.12 L359.30,546.12 L360.31,546.12 L361.31,546.12 L362.32,546.12 L363.32,546.12 L364.33,546.12 L365.33,546.12 L366.34,546.12 L367.34,546.12 L368.35,546.12 L369.35,546.12 L370.36,546.12 L371.36,546.12 L372.37,546.12 L373.37,546.12 L374.38,546.12 L375.38,546.12 L376.39,546.12 L377.39,546.12 L378.40,546.12 L379.40,546.12 L380.41,546.12 L381.42,546.12 L382.42,546.12 L383.43,546.12 L384.43,546.12 L385.44,546.12 L386.44,546.12 L387.45,546.12 L388.45,546.12 L389.46,546.12 L390.46,546.12 L391.47,546.12 L392.47,546.12 L393.48,546.12 L394.48,546.12 L395.49,546.12 L396.49,546.12 L397.50,546.12 L398.50,546.12 L399.51,546.12 L400.51,546.12 L401.52,546.12 L402.52,546.12 L403.53,546.12 L404.53,546.12 L405.54,546.12 L406.55,546.12 L407.55,546.12 L408.56,546.12 L409.56,546.12 L410.57,546.12 L411.57,546.12 L412.58,546.12 L413.58,546.12 L414.59,546.12 L415.59,546.12 L416.60,546.12 L417.60,546.12 L418.61,546.12 L419.61,546.12 L420.62,546.12 L421.62,546.12 L422.63,546.12 L423.63,546.12 L424.64,546.12 L425.64,546.12 L426.65,546.12 L427.65,546.12 L428.66,546.12 L429.66,546.12 L430.67,546.12 L431.68,546.12 L432.68,546.12 L433.69,546.12 L434.69,546.12 L435.70,546.12 L436.70,546.12 L437.71,546.12 L438.71,546.12 L439.72,546.12 L440.72,546.12 L441.73,546.12 L442.73,546.12 L443.74,546.12 L444.74,546.12 L445.75,546.12 L446.75,546.12 L447.76,546.12 L448.76,546.12 L449.77,546.12 L450.77,546.12 L451.78,546.12 L452.78,546.12 L453.79,546.12 L454.80,546.12 L455.80,546.12 L456.81,546.12 L457.81,546.12 L458.82,546.12 L459.82,546.12 L460.83,546.12 L461.83,546.12 L462.84,546.12 L463.84,546.12 L464.85,546.12 L465.85,546.12 L466.86,546.12 L467.86,546.12 L468.87,546.12 L469.87,546.12 L470.88,546.12 L471.88,546.12 L472.89,546.12 L473.89,546.12 L474.90,546.12 L475.90,546.12 L476.91,546.12 L477.91,546.12 L478.92,546.12 L479.93,546.12 L480.93,546.12 L481.94,546.12 L482.94,546.12 L483.95,546.12 L484.95,546.12 L485.96,546.12 L486.96,546.12 L487.97,546.12 L488.97,546.12 L489.98,546.12 L490.98,546.12 L491.99,546.12 L492.99,546.14 L493.99,546.27 L495.00,546.59 L496.00,547.22 L496.94,547.98 L497.87,551.64 L498.29,556.10 L498.70,561.59" fill="none" stroke-linejoin="round" stroke="#36cc36" stroke-width="1.75"/>
<path d="M330.15,532.39 L331.95,535.54 L328.35,535.54Z" fill="#55d055"/>
<path d="M356.90,527.86 L358.70,531.01 L355.10,531.01Z" fill="#55d055"/>
<path d="M383.65,521.12 L385.45,524.27 L381.85,524.27Z" fill="#55d055"/>
<path d="M437.15,521.12 L438.95,524.27 L435.35,524.27Z" fill="#55d055"/>
<path d="M463.90,525.10 L465.70,528.25 L462.10,528.25Z" fill="#55d055"/>
<path d="M490.65,541.56 L492.45,544.71 L488.85,544.71Z" fill="#55d055"/>
<path d="M498.70,563.10 L500.50,566.25 L496.90,566.25Z" fill="#55d055"/>
<rect x="327.05" y="562.13" width="6.20" height="6.20" fill="#fff" stroke="#555" stroke-width="1"/>
<rect x="353.80" y="558.49" width="6.20" height="6.20" fill="#fff" stroke="#555" stroke-width="1"/>
<rect x="380.55" y="555.95" width="6.20" height="6.20" fill="#fff" stroke="#555" stroke-width="1"/>
<rect x="407.30" y="561.80" width="6.20" height="6.20" fill="#fff" stroke="#555" stroke-width="1"/>
<rect x="434.05" y="566.77" width="6.20" height="6.20" fill="#fff" stroke="#555" stroke-width="1"/>
<rect x="460.80" y="566.77" width="6.20" height="6.20" fill="#fff" stroke="#555" stroke-width="1"/>
<rect x="487.55" y="572.85" width="6.20" height="6.20" fill="#fff" stroke="#555" stroke-width="1"/>
<rect x="495.60" y="578.37" width="6.20" height="6.20" fill="#fff" stroke="#555" stroke-width="1"/>
<path d="M330.15,542.05 L333.45,547.82 L326.85,547.82Z" fill="#1c1ccc"/>
<path d="M356.90,572.65 L360.20,578.42 L353.60,578.42Z" fill="#1c1ccc"/>
<path d="M383.65,577.07 L386.95,582.84 L380.35,582.84Z" fill="#1c1ccc"/>
<path d="M410.40,573.75 L413.70,579.53 L407.10,579.53Z" fill="#1c1ccc"/>
<path d="M437.15,573.75 L440.45,579.53 L433.85,579.53Z" fill="#1c1ccc"/>
<path d="M463.90,571.54 L467.20,577.32 L460.60,577.32Z" fill="#1c1ccc"/>
<path d="M490.65,575.96 L493.95,581.74 L487.35,581.74Z" fill="#1c1ccc"/>
<path d="M498.70,575.19 L502.00,580.97 L495.40,580.97Z" fill="#1c1ccc"/>
<circle cx="330.15" cy="555.84" r="3.00" fill="#e8141c"/>
<circle cx="356.90" cy="573.96" r="3.00" fill="#e8141c"/>
<circle cx="383.65" cy="575.29" r="3.00" fill="#e8141c"/>
<circle cx="410.40" cy="579.26" r="3.00" fill="#e8141c"/>
<circle cx="437.15" cy="575.29" r="3.00" fill="#e8141c"/>
<circle cx="463.90" cy="575.95" r="3.00" fill="#e8141c"/>
<circle cx="490.65" cy="575.95" r="3.00" fill="#e8141c"/>
<circle cx="498.70" cy="586.45" r="3.00" fill="#e8141c"/>
</svg>
</body></html>
